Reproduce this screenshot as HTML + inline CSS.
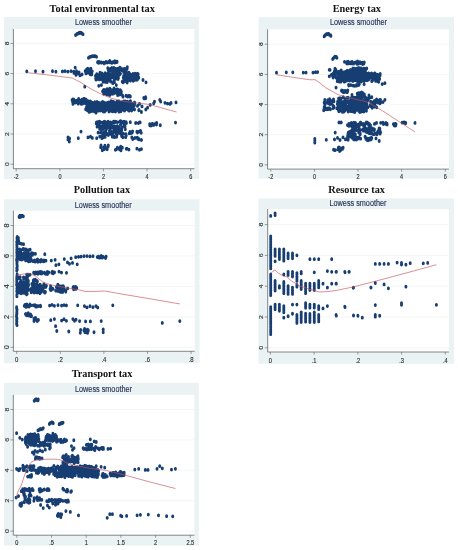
<!DOCTYPE html>
<html lang="en"><head><meta charset="utf-8"><title>Lowess smoother panels</title>
<style>html,body{margin:0;padding:0;background:#fff}body{width:458px;height:550px;overflow:hidden}svg{display:block;font-family:"Liberation Sans",sans-serif}</style></head>
<body>
<svg width="458" height="550" viewBox="0 0 458 550">
<rect width="458" height="550" fill="#fff"/>
<g>
<rect x="4.1" y="17.0" width="194.9" height="162.0" fill="#eaf2f3"/>
<rect x="13.8" y="29.0" width="180.6" height="139.7" fill="#fff"/>
<line x1="13.4" x2="194.4" y1="43.4" y2="43.4" stroke="#eef3f4" stroke-width="0.7"/>
<line x1="13.4" x2="194.4" y1="73.6" y2="73.6" stroke="#eef3f4" stroke-width="0.7"/>
<line x1="13.4" x2="194.4" y1="103.8" y2="103.8" stroke="#eef3f4" stroke-width="0.7"/>
<line x1="13.4" x2="194.4" y1="134.0" y2="134.0" stroke="#eef3f4" stroke-width="0.7"/>
<line x1="13.4" x2="194.4" y1="164.2" y2="164.2" stroke="#eef3f4" stroke-width="0.7"/>
<path d="M13.4 29.0V168.7H194.4" fill="none" stroke="#5c6164" stroke-width="0.75"/>
<line x1="10.5" x2="13.4" y1="43.4" y2="43.4" stroke="#5c6164" stroke-width="0.6"/>
<text transform="translate(8.8 43.4) scale(1 1.17) rotate(-90)" text-anchor="middle" font-size="5.8" fill="#2b2f32" stroke="#2b2f32" stroke-width="0.12">8</text>
<line x1="10.5" x2="13.4" y1="73.6" y2="73.6" stroke="#5c6164" stroke-width="0.6"/>
<text transform="translate(8.8 73.6) scale(1 1.17) rotate(-90)" text-anchor="middle" font-size="5.8" fill="#2b2f32" stroke="#2b2f32" stroke-width="0.12">6</text>
<line x1="10.5" x2="13.4" y1="103.8" y2="103.8" stroke="#5c6164" stroke-width="0.6"/>
<text transform="translate(8.8 103.8) scale(1 1.17) rotate(-90)" text-anchor="middle" font-size="5.8" fill="#2b2f32" stroke="#2b2f32" stroke-width="0.12">4</text>
<line x1="10.5" x2="13.4" y1="134.0" y2="134.0" stroke="#5c6164" stroke-width="0.6"/>
<text transform="translate(8.8 134.0) scale(1 1.17) rotate(-90)" text-anchor="middle" font-size="5.8" fill="#2b2f32" stroke="#2b2f32" stroke-width="0.12">2</text>
<line x1="10.5" x2="13.4" y1="164.2" y2="164.2" stroke="#5c6164" stroke-width="0.6"/>
<text transform="translate(8.8 164.2) scale(1 1.17) rotate(-90)" text-anchor="middle" font-size="5.8" fill="#2b2f32" stroke="#2b2f32" stroke-width="0.12">0</text>
<line x1="16.2" x2="16.2" y1="168.7" y2="171.3" stroke="#5c6164" stroke-width="0.6"/>
<text transform="translate(16.2 178.7) scale(1 1.17)" text-anchor="middle" font-size="5.5" fill="#2b2f32" stroke="#2b2f32" stroke-width="0.12">-2</text>
<line x1="59.9" x2="59.9" y1="168.7" y2="171.3" stroke="#5c6164" stroke-width="0.6"/>
<text transform="translate(59.9 178.7) scale(1 1.17)" text-anchor="middle" font-size="5.5" fill="#2b2f32" stroke="#2b2f32" stroke-width="0.12">0</text>
<line x1="103.4" x2="103.4" y1="168.7" y2="171.3" stroke="#5c6164" stroke-width="0.6"/>
<text transform="translate(103.4 178.7) scale(1 1.17)" text-anchor="middle" font-size="5.5" fill="#2b2f32" stroke="#2b2f32" stroke-width="0.12">2</text>
<line x1="147.0" x2="147.0" y1="168.7" y2="171.3" stroke="#5c6164" stroke-width="0.6"/>
<text transform="translate(147.0 178.7) scale(1 1.17)" text-anchor="middle" font-size="5.5" fill="#2b2f32" stroke="#2b2f32" stroke-width="0.12">4</text>
<line x1="190.7" x2="190.7" y1="168.7" y2="171.3" stroke="#5c6164" stroke-width="0.6"/>
<text transform="translate(190.7 178.7) scale(1 1.17)" text-anchor="middle" font-size="5.5" fill="#2b2f32" stroke="#2b2f32" stroke-width="0.12">6</text>
<text x="102.2" y="12.1" text-anchor="middle" font-family="'Liberation Serif',serif" font-weight="bold" font-size="10.3" fill="#111">Total environmental tax</text>
<text transform="translate(103.5 25.4) scale(1 1.17)" text-anchor="middle" font-size="7.27" fill="#1e2d53" stroke="#1e2d53" stroke-width="0.12">Lowess smoother</text>
<path transform="scale(1 1.26)" d="M26.8 56.7h0M35.5 56.5h0M43.0 56.9h0M52.5 56.5h0M55.9 56.9h0M62.4 56.7h0M65.0 56.5h0M67.9 56.8h0M71.0 56.5h0M73.8 56.8h0M76.5 56.5h0M75.2 53.6h0M74.0 57.9h0M76.0 59.5h0M78.0 58.3h0M80.0 59.9h0M82.0 59.1h0M79.0 57.5h0M75.6 27.8h0M76.6 27.2h0M77.0 26.9h0M78.0 26.6h0M78.4 26.5h0M78.9 26.2h0M79.7 25.9h0M80.3 26.0h0M81.3 26.1h0M81.9 26.5h0M82.5 26.8h0M83.0 27.1h0M88.5 45.9h0M89.4 45.4h0M90.4 45.1h0M91.1 44.9h0M92.2 44.5h0M93.0 44.5h0M94.0 44.5h0M94.6 44.6h0M95.3 44.6h0M96.5 45.1h0M107.2 49.7h0M108.5 49.2h0M108.0 49.3h0M114.8 49.4h0M109.7 48.4h0M101.7 49.7h0M106.0 49.5h0M112.3 49.6h0M114.6 49.7h0M114.8 48.6h0M104.2 50.3h0M99.8 49.6h0M106.0 49.1h0M104.5 50.0h0M109.7 49.4h0M98.5 49.1h0M112.2 49.6h0M109.5 49.4h0M99.8 49.4h0M100.1 49.5h0M113.9 49.2h0M103.4 49.7h0M115.9 49.4h0M98.4 49.8h0M101.2 49.6h0M99.4 49.4h0M116.8 48.9h0M104.4 50.1h0M112.1 49.8h0M117.0 48.9h0M111.6 49.9h0M97.6 49.4h0M111.1 49.5h0M117.0 49.2h0M86.3 57.2h0M92.2 56.6h0M91.7 58.5h0M90.9 54.5h0M90.4 59.1h0M86.5 58.0h0M85.9 58.3h0M91.7 59.1h0M89.4 55.2h0M85.2 56.4h0M91.1 58.2h0M86.1 55.6h0M89.2 55.2h0M91.6 57.1h0M90.8 56.9h0M88.7 56.1h0M86.8 55.0h0M88.2 55.1h0M87.7 54.4h0M89.0 57.9h0M116.9 55.4h0M116.0 54.7h0M120.7 55.1h0M125.7 54.9h0M111.8 55.2h0M111.1 54.6h0M113.4 55.7h0M125.7 55.8h0M111.8 53.8h0M125.8 56.1h0M124.3 55.4h0M114.7 55.7h0M107.8 54.1h0M113.9 53.9h0M127.3 53.2h0M114.0 54.8h0M109.4 56.0h0M113.7 55.9h0M121.6 55.4h0M117.3 55.7h0M124.3 54.7h0M124.1 55.2h0M125.8 55.3h0M112.8 54.5h0M111.7 55.8h0M113.2 54.8h0M108.3 55.4h0M118.8 56.1h0M110.3 54.6h0M123.5 55.6h0M126.3 56.0h0M119.8 54.5h0M111.3 54.9h0M112.0 56.0h0M120.8 55.0h0M117.1 55.0h0M127.1 54.5h0M126.4 54.6h0M114.7 54.6h0M118.1 54.4h0M115.8 54.7h0M111.9 55.1h0M120.4 53.9h0M114.6 55.3h0M121.4 55.8h0M119.9 53.6h0M117.0 55.5h0M122.9 54.8h0M112.4 59.0h0M105.2 61.3h0M110.2 60.0h0M96.1 59.9h0M108.5 61.5h0M102.2 61.7h0M100.6 59.3h0M104.1 61.8h0M110.4 58.9h0M101.8 60.5h0M96.5 61.4h0M112.1 60.3h0M106.6 62.4h0M101.8 58.3h0M107.4 59.3h0M102.6 60.3h0M110.1 63.0h0M99.2 61.8h0M112.7 61.4h0M97.0 60.3h0M103.3 60.0h0M116.8 62.1h0M99.4 62.0h0M102.3 63.1h0M109.5 59.9h0M97.8 60.1h0M118.2 60.9h0M99.4 63.0h0M114.4 61.8h0M108.9 61.5h0M106.6 59.0h0M97.2 60.3h0M103.7 63.4h0M101.8 60.5h0M105.4 59.5h0M117.1 62.4h0M119.3 59.3h0M97.8 59.6h0M100.9 61.3h0M105.1 60.3h0M104.3 62.8h0M98.0 62.2h0M100.9 60.4h0M107.5 62.0h0M97.2 62.5h0M107.1 60.1h0M118.4 61.9h0M102.0 60.8h0M112.9 61.0h0M113.4 58.7h0M114.6 62.2h0M103.4 61.4h0M112.7 60.8h0M109.4 61.2h0M95.9 63.1h0M111.7 59.0h0M102.5 59.5h0M95.5 60.2h0M101.3 58.5h0M96.3 61.8h0M100.8 59.9h0M101.2 61.9h0M101.5 60.4h0M118.2 59.3h0M105.1 58.1h0M105.5 60.1h0M97.6 62.5h0M116.7 61.0h0M104.2 62.6h0M96.3 59.6h0M103.7 59.6h0M104.5 62.6h0M100.1 62.6h0M106.7 60.1h0M118.0 62.7h0M95.7 62.2h0M97.0 62.5h0M101.9 58.9h0M103.0 59.3h0M112.7 58.7h0M114.5 62.2h0M96.4 63.1h0M118.3 60.5h0M107.9 61.8h0M113.9 60.4h0M103.4 62.2h0M98.0 60.1h0M98.0 59.9h0M120.4 58.6h0M98.3 61.8h0M106.5 61.5h0M111.9 60.4h0M98.9 60.5h0M104.7 59.1h0M102.3 61.6h0M102.2 61.4h0M101.6 62.1h0M97.2 62.2h0M118.1 59.0h0M101.0 62.4h0M105.1 59.1h0M114.6 60.9h0M110.7 59.4h0M100.7 61.8h0M101.2 61.4h0M100.1 62.1h0M109.1 60.2h0M108.8 58.9h0M112.0 59.9h0M118.3 60.4h0M107.0 58.8h0M100.5 58.1h0M116.4 60.5h0M116.6 58.5h0M108.2 58.0h0M110.2 59.4h0M101.3 58.7h0M108.0 58.1h0M100.2 60.1h0M97.6 62.2h0M110.8 61.6h0M100.2 62.5h0M100.3 61.1h0M105.3 61.8h0M117.9 61.8h0M96.9 60.8h0M108.6 59.9h0M109.0 60.6h0M107.0 60.6h0M101.5 59.6h0M99.8 58.9h0M106.6 60.9h0M96.6 61.5h0M114.2 60.6h0M105.1 62.1h0M119.5 58.4h0M117.9 62.5h0M100.0 57.6h0M104.2 62.1h0M102.5 60.3h0M117.9 60.9h0M103.8 59.1h0M117.7 58.2h0M115.1 61.5h0M104.9 60.5h0M118.3 62.0h0M105.4 62.4h0M109.0 60.9h0M100.0 61.8h0M100.8 60.0h0M111.6 58.5h0M98.9 60.3h0M117.5 61.5h0M96.8 58.8h0M104.5 61.5h0M100.2 58.6h0M118.2 59.0h0M111.7 59.6h0M102.9 60.9h0M103.8 62.1h0M113.3 59.5h0M108.2 58.8h0M115.1 62.6h0M99.4 61.2h0M111.3 59.5h0M104.1 62.1h0M114.0 61.7h0M106.9 58.9h0M98.3 59.9h0M113.4 60.7h0M101.6 61.7h0M108.2 63.2h0M101.1 59.4h0M101.4 60.6h0M104.0 59.1h0M116.9 60.8h0M118.2 61.6h0M115.5 61.1h0M103.3 59.3h0M117.6 58.9h0M117.8 58.7h0M96.5 60.9h0M114.1 60.2h0M115.8 57.8h0M117.7 58.3h0M100.8 62.2h0M114.5 60.5h0M102.9 61.8h0M100.5 58.8h0M101.8 60.6h0M125.4 64.0h0M127.9 60.7h0M128.2 62.0h0M124.0 63.7h0M123.9 63.3h0M131.1 61.1h0M129.2 60.3h0M129.1 60.3h0M123.7 57.3h0M128.4 63.1h0M128.5 60.0h0M125.6 64.3h0M122.3 64.8h0M125.5 59.5h0M125.1 63.1h0M127.3 58.5h0M128.9 57.7h0M125.9 57.4h0M126.3 58.3h0M124.3 57.4h0M123.4 61.7h0M123.2 65.4h0M129.5 58.4h0M126.3 63.0h0M126.0 58.4h0M123.7 60.3h0M128.7 61.7h0M126.5 60.8h0M128.9 61.5h0M128.2 63.1h0M129.8 63.4h0M127.5 59.2h0M127.9 63.7h0M127.9 60.2h0M125.6 62.3h0M130.4 64.0h0M123.9 57.3h0M127.2 65.5h0M127.1 61.8h0M127.5 63.8h0M125.4 59.2h0M127.2 58.4h0M130.4 59.3h0M126.0 60.5h0M127.8 59.1h0M137.4 59.8h0M136.9 59.6h0M137.3 61.1h0M135.7 62.0h0M136.5 61.0h0M133.2 64.1h0M134.2 60.8h0M132.9 58.6h0M136.6 60.9h0M134.1 63.3h0M135.0 58.5h0M138.2 59.0h0M137.4 58.5h0M138.1 58.9h0M132.5 61.6h0M133.2 59.2h0M137.1 62.6h0M138.2 59.0h0M135.5 61.3h0M137.4 60.0h0M132.1 61.7h0M131.7 62.2h0M138.7 61.7h0M134.9 60.3h0M134.6 62.8h0M136.7 63.3h0M137.4 63.1h0M135.0 63.3h0M135.3 61.7h0M133.9 59.8h0M107.1 65.2h0M105.2 64.5h0M103.1 64.9h0M114.4 65.2h0M110.0 64.2h0M113.8 64.4h0M105.5 65.0h0M110.6 64.4h0M110.6 64.5h0M110.7 64.7h0M143.0 63.5h0M146.0 65.3h0M98.8 68.1h0M101.4 67.5h0M112.8 66.0h0M116.3 67.5h0M84.8 68.8h0M111.1 71.4h0M103.6 72.7h0M109.9 72.5h0M107.3 72.6h0M109.8 70.3h0M113.4 74.3h0M113.8 70.7h0M108.7 74.4h0M111.2 73.7h0M106.7 71.0h0M116.3 72.0h0M118.8 74.0h0M107.1 70.8h0M116.7 73.1h0M103.7 72.3h0M119.8 75.0h0M103.7 74.4h0M103.8 72.2h0M118.3 72.4h0M112.5 71.7h0M116.9 74.0h0M109.7 75.4h0M116.7 71.0h0M120.3 71.5h0M114.9 73.3h0M107.3 72.9h0M114.4 73.7h0M108.3 72.7h0M114.0 70.2h0M118.4 72.5h0M108.3 73.1h0M119.4 73.4h0M117.7 75.5h0M106.4 72.4h0M106.5 74.9h0M112.0 74.5h0M106.0 74.1h0M111.6 71.8h0M106.6 73.0h0M112.5 71.8h0M104.1 71.3h0M114.4 73.1h0M108.9 71.0h0M121.3 72.9h0M107.6 74.4h0M117.4 70.9h0M103.5 71.5h0M102.6 72.5h0M120.3 73.3h0M111.0 72.7h0M112.2 72.8h0M109.6 75.0h0M121.0 72.1h0M110.2 73.9h0M103.8 72.9h0M121.1 74.1h0M119.8 73.0h0M117.0 72.2h0M104.7 71.9h0M105.3 73.8h0M110.8 72.7h0M118.7 71.6h0M113.4 74.3h0M114.0 73.8h0M112.5 72.3h0M107.8 71.7h0M117.2 72.8h0M110.7 72.0h0M112.4 73.1h0M119.6 73.7h0M109.3 72.6h0M108.5 75.1h0M118.2 74.0h0M107.9 73.6h0M107.7 71.9h0M107.7 71.9h0M112.6 73.0h0M109.3 74.1h0M109.7 73.3h0M112.9 73.5h0M115.6 71.9h0M108.0 73.0h0M108.1 73.4h0M117.1 73.9h0M113.0 72.1h0M129.8 76.2h0M128.4 76.1h0M127.6 76.6h0M130.0 76.7h0M130.3 76.5h0M126.1 76.0h0M122.6 75.9h0M123.0 76.7h0M72.8 78.9h0M75.5 81.4h0M73.6 78.8h0M72.4 80.2h0M72.8 81.4h0M78.2 82.3h0M73.9 79.6h0M75.4 80.1h0M78.4 79.6h0M73.0 82.5h0M78.6 78.5h0M76.9 79.8h0M74.6 80.8h0M72.1 79.4h0M81.7 82.3h0M86.3 81.4h0M79.4 81.0h0M80.9 80.7h0M81.3 82.5h0M82.0 79.1h0M86.1 79.1h0M83.8 78.5h0M80.5 79.8h0M82.4 82.3h0M84.9 78.6h0M86.0 81.0h0M84.0 79.3h0M84.1 78.4h0M83.2 80.4h0M84.1 80.6h0M87.4 82.3h0M84.4 80.2h0M87.3 82.8h0M87.3 80.0h0M85.5 81.3h0M84.6 80.9h0M84.4 81.7h0M80.7 81.6h0M84.0 80.7h0M83.9 80.0h0M82.7 81.6h0M81.8 80.2h0M82.9 79.5h0M84.1 79.0h0M113.9 87.6h0M102.4 87.3h0M94.9 81.1h0M87.8 87.5h0M121.8 84.2h0M111.0 82.9h0M114.2 86.7h0M112.1 83.9h0M112.4 87.7h0M109.0 88.5h0M101.8 81.7h0M102.6 84.4h0M92.1 86.5h0M134.7 81.5h0M99.5 82.0h0M94.5 82.9h0M134.3 83.7h0M124.1 81.2h0M101.3 85.3h0M95.0 82.6h0M115.7 84.7h0M106.3 86.6h0M91.6 84.8h0M125.3 80.5h0M86.8 85.7h0M103.5 81.6h0M129.6 83.9h0M105.9 85.4h0M132.0 82.7h0M89.2 82.6h0M130.0 84.9h0M131.4 82.5h0M105.0 82.7h0M127.7 82.5h0M94.3 88.3h0M100.0 84.6h0M104.7 81.6h0M126.0 82.3h0M99.9 85.8h0M103.2 81.8h0M99.4 83.8h0M126.9 83.1h0M120.2 82.9h0M131.9 84.1h0M92.3 87.2h0M114.4 85.5h0M96.6 84.4h0M112.3 84.3h0M117.6 83.4h0M90.8 83.8h0M118.9 83.7h0M110.4 83.1h0M97.7 83.2h0M106.5 87.0h0M128.3 81.0h0M118.9 83.4h0M118.0 86.8h0M103.0 81.3h0M130.4 80.2h0M88.2 83.2h0M105.1 85.6h0M95.2 85.6h0M97.7 83.5h0M86.6 82.1h0M88.6 80.5h0M98.7 82.7h0M130.5 85.8h0M105.2 81.9h0M91.0 87.6h0M119.6 84.6h0M108.9 84.1h0M111.2 86.4h0M87.9 81.8h0M113.4 84.7h0M98.7 83.9h0M95.8 86.3h0M118.7 84.9h0M108.2 82.7h0M129.5 83.6h0M124.8 81.7h0M118.0 86.2h0M126.8 83.6h0M96.5 82.2h0M119.9 83.1h0M108.7 81.3h0M87.5 81.2h0M121.7 81.3h0M109.5 84.9h0M87.2 85.1h0M131.3 82.2h0M93.8 87.2h0M100.8 87.7h0M131.6 87.7h0M122.0 87.2h0M101.2 83.8h0M126.5 85.1h0M117.0 87.0h0M131.4 81.8h0M100.5 85.8h0M92.7 81.7h0M87.7 86.3h0M86.8 86.0h0M106.6 85.2h0M106.3 86.1h0M126.5 82.7h0M107.2 81.9h0M90.0 88.5h0M131.3 87.2h0M116.3 85.7h0M115.5 88.5h0M109.2 82.9h0M129.5 85.9h0M108.5 83.8h0M113.7 85.2h0M105.6 87.7h0M113.6 83.1h0M90.3 84.3h0M113.1 82.0h0M110.8 83.6h0M88.7 85.2h0M120.8 88.0h0M122.0 84.1h0M95.1 86.4h0M92.8 82.2h0M104.9 82.3h0M100.5 87.0h0M116.8 87.3h0M128.9 83.8h0M122.8 80.8h0M104.1 85.1h0M88.0 84.7h0M126.1 86.5h0M98.7 87.5h0M114.4 81.5h0M125.3 83.3h0M119.3 87.5h0M111.9 87.2h0M86.6 84.7h0M128.6 81.9h0M125.6 83.9h0M94.1 87.0h0M116.2 82.4h0M129.4 81.8h0M102.9 83.7h0M104.0 83.2h0M85.5 81.2h0M93.0 82.4h0M110.3 85.2h0M132.8 84.9h0M124.2 84.9h0M116.7 87.0h0M129.3 82.7h0M123.2 85.0h0M102.6 80.9h0M101.8 85.5h0M104.0 83.6h0M93.8 84.1h0M107.3 81.7h0M89.2 86.6h0M113.4 87.6h0M114.8 85.2h0M133.5 84.5h0M128.9 87.8h0M99.5 81.9h0M99.0 83.4h0M95.0 85.1h0M95.5 84.1h0M90.4 82.4h0M93.0 87.9h0M117.5 83.0h0M122.2 85.5h0M103.0 81.1h0M116.2 85.6h0M98.5 87.8h0M113.7 85.3h0M121.2 81.9h0M93.1 86.7h0M106.0 84.7h0M117.7 86.1h0M98.4 85.9h0M101.3 82.9h0M98.3 81.4h0M85.7 86.7h0M104.1 86.4h0M90.8 81.1h0M110.2 87.8h0M104.1 86.5h0M131.0 86.7h0M98.5 85.4h0M103.0 82.6h0M130.7 81.5h0M116.6 81.5h0M112.5 88.4h0M116.6 82.9h0M107.2 86.8h0M116.8 83.6h0M114.4 88.0h0M99.1 81.9h0M101.1 81.9h0M118.8 84.8h0M129.3 84.2h0M124.2 87.1h0M134.4 81.5h0M134.7 81.8h0M122.1 86.0h0M89.8 87.0h0M129.1 82.4h0M124.5 84.4h0M97.1 80.8h0M133.8 82.3h0M110.2 82.3h0M119.9 85.0h0M91.2 88.1h0M103.4 88.5h0M121.6 82.9h0M90.1 83.9h0M113.1 86.0h0M117.2 85.8h0M134.5 83.2h0M100.3 84.1h0M104.6 88.5h0M85.4 81.9h0M115.5 82.3h0M92.3 87.0h0M88.3 85.2h0M112.2 81.6h0M122.8 84.7h0M134.5 86.9h0M104.4 84.2h0M115.7 85.1h0M112.6 83.2h0M129.4 84.7h0M109.3 88.0h0M111.1 86.8h0M98.2 84.9h0M117.8 86.5h0M87.4 87.5h0M92.3 81.6h0M103.7 83.6h0M88.9 86.9h0M107.0 86.6h0M93.2 84.2h0M97.3 83.8h0M87.2 81.5h0M94.7 82.7h0M98.0 85.3h0M128.0 87.2h0M116.0 84.1h0M103.8 83.4h0M117.8 83.2h0M114.5 88.0h0M120.1 83.6h0M89.6 84.2h0M111.0 80.3h0M114.3 87.2h0M105.1 84.1h0M109.0 85.7h0M122.0 85.9h0M113.1 80.7h0M97.7 81.7h0M90.4 80.4h0M119.0 80.5h0M119.0 88.6h0M126.0 83.0h0M112.9 82.7h0M98.7 87.5h0M112.5 80.9h0M101.6 86.6h0M98.6 84.9h0M103.6 85.2h0M104.0 87.4h0M113.6 84.8h0M105.5 82.5h0M124.6 87.5h0M113.6 84.3h0M129.3 85.7h0M88.6 85.1h0M95.5 86.5h0M109.9 82.3h0M96.5 87.5h0M96.4 86.8h0M131.6 82.9h0M130.0 80.8h0M120.9 83.1h0M97.0 84.7h0M94.0 86.9h0M94.0 82.4h0M87.1 82.7h0M113.1 86.5h0M106.9 86.8h0M93.7 87.2h0M111.6 86.8h0M110.5 84.2h0M127.5 80.9h0M92.7 88.0h0M97.3 85.2h0M132.4 86.5h0M88.2 82.9h0M122.6 83.6h0M89.2 84.8h0M123.9 80.5h0M111.7 81.9h0M113.9 86.1h0M94.7 84.0h0M127.5 81.4h0M90.9 84.3h0M112.6 82.2h0M111.6 82.1h0M105.8 82.6h0M127.3 80.7h0M131.0 85.0h0M119.7 82.5h0M99.5 84.7h0M100.5 84.9h0M96.7 85.7h0M89.1 88.8h0M87.5 86.4h0M103.0 87.3h0M87.2 83.6h0M90.4 86.5h0M93.3 82.3h0M96.0 89.4h0M123.9 86.7h0M130.2 81.5h0M117.0 80.6h0M120.8 88.3h0M118.8 86.8h0M132.4 86.6h0M124.6 86.7h0M124.5 87.8h0M112.4 86.5h0M121.2 84.2h0M99.9 84.6h0M125.1 83.4h0M121.3 85.9h0M122.3 85.3h0M122.5 86.5h0M122.0 82.4h0M97.4 84.6h0M109.3 84.1h0M122.9 82.4h0M102.7 84.8h0M122.5 82.9h0M122.6 86.9h0M106.3 85.9h0M124.4 86.9h0M111.6 86.0h0M99.0 83.1h0M125.8 83.6h0M106.3 86.5h0M110.6 87.0h0M117.6 84.6h0M126.7 85.6h0M105.8 86.2h0M109.9 83.5h0M122.6 83.8h0M120.6 85.2h0M94.4 86.7h0M125.3 85.3h0M94.2 85.6h0M103.3 84.4h0M109.0 85.8h0M116.2 86.2h0M117.7 85.1h0M122.7 82.5h0M111.8 85.4h0M99.3 83.8h0M108.2 82.9h0M104.6 83.6h0M109.1 84.3h0M107.4 83.1h0M124.5 85.4h0M120.7 85.9h0M109.2 85.4h0M102.2 85.4h0M103.2 85.5h0M95.1 83.4h0M126.5 82.9h0M112.7 83.5h0M122.3 85.4h0M127.0 85.2h0M108.1 83.6h0M107.4 82.7h0M123.5 85.2h0M125.5 82.9h0M106.9 85.3h0M113.2 83.8h0M123.5 82.2h0M117.1 85.8h0M125.1 84.4h0M125.0 85.9h0M114.9 85.1h0M122.4 83.6h0M96.0 84.8h0M106.0 85.9h0M105.6 82.9h0M103.6 84.9h0M122.9 83.0h0M100.9 83.5h0M113.6 84.0h0M123.3 81.9h0M121.5 84.3h0M94.9 84.4h0M106.7 83.3h0M125.0 86.6h0M105.2 84.4h0M97.2 85.6h0M109.2 84.3h0M103.6 85.3h0M109.1 83.8h0M101.9 86.4h0M120.9 85.2h0M119.1 82.5h0M123.7 82.9h0M106.3 87.2h0M104.5 84.0h0M125.3 82.3h0M97.6 85.0h0M129.2 84.0h0M122.6 85.0h0M138.8 87.5h0M141.4 88.9h0M145.8 86.9h0M147.6 85.5h0M150.2 83.3h0M153.7 82.0h0M154.5 80.6h0M159.8 79.2h0M160.7 80.6h0M165.0 81.6h0M167.5 82.2h0M170.0 82.5h0M171.0 81.7h0M176.0 81.3h0M139.0 87.3h0M137.5 84.1h0M139.5 82.5h0M142.0 84.5h0M144.2 78.1h0M145.6 77.1h0M143.8 77.6h0M145.7 77.9h0M144.4 78.1h0M145.2 78.1h0M113.0 97.4h0M122.4 97.1h0M104.1 96.8h0M114.5 97.4h0M113.5 96.6h0M98.3 97.0h0M108.1 96.5h0M115.8 96.6h0M123.8 97.0h0M126.4 97.7h0M120.7 96.5h0M100.1 96.9h0M97.9 98.1h0M117.4 97.1h0M104.4 97.3h0M100.3 97.0h0M121.2 97.5h0M121.2 96.4h0M121.2 96.9h0M114.3 96.6h0M97.5 97.0h0M96.5 97.2h0M120.7 97.3h0M102.4 97.4h0M112.8 97.4h0M122.3 97.0h0M105.5 97.0h0M126.1 97.0h0M99.5 96.6h0M109.5 97.6h0M124.1 96.5h0M121.7 97.1h0M121.1 97.5h0M124.2 97.3h0M105.2 97.4h0M110.6 97.2h0M120.4 96.1h0M104.6 97.5h0M104.3 96.5h0M119.9 96.4h0M135.9 97.5h0M135.6 97.7h0M130.3 97.0h0M138.4 97.7h0M140.1 97.2h0M139.5 97.2h0M160.3 99.4h0M156.7 97.6h0M152.6 98.4h0M152.6 98.7h0M155.6 98.0h0M149.7 98.5h0M151.0 99.7h0M156.5 98.9h0M149.8 99.4h0M153.9 99.1h0M152.8 99.1h0M152.1 98.3h0M175.5 97.3h0M105.1 108.7h0M100.7 105.3h0M101.9 109.7h0M107.5 100.3h0M99.3 99.8h0M125.0 100.3h0M120.2 104.7h0M99.7 102.3h0M107.9 100.1h0M102.6 105.9h0M110.8 105.8h0M121.7 103.4h0M99.0 99.4h0M99.5 100.9h0M109.8 102.5h0M111.2 98.8h0M103.0 107.7h0M125.7 108.9h0M112.3 108.5h0M103.1 109.1h0M110.3 103.3h0M106.2 103.0h0M100.6 100.2h0M96.3 98.0h0M110.6 100.3h0M110.8 99.5h0M121.6 107.9h0M107.8 100.6h0M114.7 100.6h0M97.1 100.5h0M117.9 102.3h0M118.3 101.0h0M109.5 103.8h0M126.2 107.6h0M103.0 100.8h0M125.3 102.6h0M117.2 100.1h0M122.2 101.2h0M109.3 99.5h0M104.6 100.7h0M99.7 108.4h0M98.1 105.2h0M109.1 106.3h0M122.9 109.0h0M109.9 99.7h0M96.7 109.7h0M122.2 108.3h0M120.5 99.1h0M103.3 107.0h0M124.0 99.0h0M123.3 106.1h0M104.1 104.7h0M117.7 105.7h0M110.2 97.6h0M110.4 105.1h0M102.7 100.7h0M109.8 102.8h0M125.9 106.5h0M106.7 99.0h0M103.2 98.9h0M103.6 100.7h0M113.9 102.8h0M115.4 104.3h0M101.5 102.9h0M121.0 104.8h0M113.8 100.5h0M116.8 107.6h0M114.2 104.5h0M106.0 106.5h0M106.9 101.4h0M115.9 102.2h0M115.9 100.8h0M120.7 102.8h0M111.7 104.6h0M106.8 101.3h0M102.6 101.7h0M117.4 103.9h0M105.8 100.0h0M104.2 106.0h0M106.3 99.9h0M113.6 107.8h0M117.5 106.1h0M113.1 105.3h0M103.2 101.9h0M109.1 99.9h0M116.2 106.0h0M114.5 101.0h0M107.4 100.9h0M106.1 105.5h0M121.0 102.3h0M116.7 100.8h0M102.0 108.3h0M118.8 100.9h0M111.1 106.3h0M112.1 100.2h0M108.8 106.0h0M105.6 106.8h0M116.6 108.6h0M120.2 103.8h0M114.3 108.9h0M120.3 105.8h0M108.3 107.2h0M110.7 100.9h0M121.4 106.9h0M104.2 101.4h0M112.3 101.1h0M116.5 101.1h0M106.5 102.1h0M117.3 103.5h0M120.5 103.8h0M137.2 104.6h0M141.2 105.4h0M131.0 105.6h0M130.0 104.6h0M137.4 105.2h0M139.1 104.4h0M136.9 104.5h0M132.6 104.2h0M132.2 105.2h0M129.3 105.9h0M136.9 104.4h0M140.5 103.8h0M137.8 110.2h0M133.2 110.2h0M132.7 110.4h0M139.0 110.7h0M137.2 109.2h0M138.5 110.0h0M131.8 109.0h0M141.4 111.1h0M135.0 109.5h0M108.3 115.4h0M103.9 116.9h0M101.0 115.4h0M101.2 116.9h0M104.9 115.6h0M107.2 118.5h0M107.2 118.4h0M100.7 116.9h0M104.3 118.4h0M102.3 119.3h0M108.1 116.3h0M105.5 117.3h0M116.4 118.5h0M120.9 119.4h0M120.3 116.9h0M120.7 116.3h0M119.6 117.9h0M122.3 117.2h0M128.9 118.7h0M119.2 118.3h0M126.3 118.1h0M115.4 118.9h0M126.9 118.0h0M117.4 117.2h0M136.9 118.0h0M139.5 118.9h0M141.4 118.3h0M68.0 109.1h0M68.0 110.7h0M69.3 112.3h0M69.5 109.9h0M81.0 104.4h0M78.3 109.7h0M88.0 109.1h0M90.5 108.4h0M92.3 109.5h0" fill="none" stroke="#163e72" stroke-width="3.0" stroke-linecap="round"/>
<path d="M27.0 72.6L50.0 75.2L72.2 78.0L80.0 82.0L92.0 89.5L102.0 94.5L112.0 98.5L125.0 101.5L140.0 103.3L150.0 104.6L162.0 108.0L176.5 112.0" fill="none" stroke="#c2545f" stroke-width="0.65" stroke-linejoin="round"/>
</g>
<g>
<rect x="258.6" y="17.2" width="195.4" height="161.4" fill="#eaf2f3"/>
<rect x="268.0" y="29.3" width="180.9" height="139.8" fill="#fff"/>
<line x1="267.6" x2="448.9" y1="44.2" y2="44.2" stroke="#eef3f4" stroke-width="0.7"/>
<line x1="267.6" x2="448.9" y1="74.4" y2="74.4" stroke="#eef3f4" stroke-width="0.7"/>
<line x1="267.6" x2="448.9" y1="104.6" y2="104.6" stroke="#eef3f4" stroke-width="0.7"/>
<line x1="267.6" x2="448.9" y1="134.7" y2="134.7" stroke="#eef3f4" stroke-width="0.7"/>
<line x1="267.6" x2="448.9" y1="164.9" y2="164.9" stroke="#eef3f4" stroke-width="0.7"/>
<path d="M267.6 29.3V169.1H448.9" fill="none" stroke="#5c6164" stroke-width="0.75"/>
<line x1="264.7" x2="267.6" y1="44.2" y2="44.2" stroke="#5c6164" stroke-width="0.6"/>
<text transform="translate(263.0 44.2) scale(1 1.17) rotate(-90)" text-anchor="middle" font-size="5.8" fill="#2b2f32" stroke="#2b2f32" stroke-width="0.12">8</text>
<line x1="264.7" x2="267.6" y1="74.4" y2="74.4" stroke="#5c6164" stroke-width="0.6"/>
<text transform="translate(263.0 74.4) scale(1 1.17) rotate(-90)" text-anchor="middle" font-size="5.8" fill="#2b2f32" stroke="#2b2f32" stroke-width="0.12">6</text>
<line x1="264.7" x2="267.6" y1="104.6" y2="104.6" stroke="#5c6164" stroke-width="0.6"/>
<text transform="translate(263.0 104.6) scale(1 1.17) rotate(-90)" text-anchor="middle" font-size="5.8" fill="#2b2f32" stroke="#2b2f32" stroke-width="0.12">4</text>
<line x1="264.7" x2="267.6" y1="134.7" y2="134.7" stroke="#5c6164" stroke-width="0.6"/>
<text transform="translate(263.0 134.7) scale(1 1.17) rotate(-90)" text-anchor="middle" font-size="5.8" fill="#2b2f32" stroke="#2b2f32" stroke-width="0.12">2</text>
<line x1="264.7" x2="267.6" y1="164.9" y2="164.9" stroke="#5c6164" stroke-width="0.6"/>
<text transform="translate(263.0 164.9) scale(1 1.17) rotate(-90)" text-anchor="middle" font-size="5.8" fill="#2b2f32" stroke="#2b2f32" stroke-width="0.12">0</text>
<line x1="270.8" x2="270.8" y1="169.1" y2="171.7" stroke="#5c6164" stroke-width="0.6"/>
<text transform="translate(270.8 178.9) scale(1 1.17)" text-anchor="middle" font-size="5.5" fill="#2b2f32" stroke="#2b2f32" stroke-width="0.12">-2</text>
<line x1="314.5" x2="314.5" y1="169.1" y2="171.7" stroke="#5c6164" stroke-width="0.6"/>
<text transform="translate(314.5 178.9) scale(1 1.17)" text-anchor="middle" font-size="5.5" fill="#2b2f32" stroke="#2b2f32" stroke-width="0.12">0</text>
<line x1="358.0" x2="358.0" y1="169.1" y2="171.7" stroke="#5c6164" stroke-width="0.6"/>
<text transform="translate(358.0 178.9) scale(1 1.17)" text-anchor="middle" font-size="5.5" fill="#2b2f32" stroke="#2b2f32" stroke-width="0.12">2</text>
<line x1="401.6" x2="401.6" y1="169.1" y2="171.7" stroke="#5c6164" stroke-width="0.6"/>
<text transform="translate(401.6 178.9) scale(1 1.17)" text-anchor="middle" font-size="5.5" fill="#2b2f32" stroke="#2b2f32" stroke-width="0.12">4</text>
<line x1="445.3" x2="445.3" y1="169.1" y2="171.7" stroke="#5c6164" stroke-width="0.6"/>
<text transform="translate(445.3 178.9) scale(1 1.17)" text-anchor="middle" font-size="5.5" fill="#2b2f32" stroke="#2b2f32" stroke-width="0.12">6</text>
<text x="356.8" y="12.1" text-anchor="middle" font-family="'Liberation Serif',serif" font-weight="bold" font-size="10.3" fill="#111">Energy tax</text>
<text transform="translate(358.5 25.4) scale(1 1.17)" text-anchor="middle" font-size="7.27" fill="#1e2d53" stroke="#1e2d53" stroke-width="0.12">Lowess smoother</text>
<path transform="scale(1 1.26)" d="M276.5 57.7h0M286.3 57.4h0M292.8 57.4h0M303.3 57.6h0M306.0 57.6h0M313.0 57.6h0M315.5 57.3h0M317.6 57.2h0M324.2 28.9h0M325.0 28.1h0M325.4 27.7h0M326.0 27.3h0M327.0 26.9h0M327.4 27.0h0M328.1 27.0h0M328.7 26.9h0M329.4 27.4h0M329.6 27.7h0M330.5 27.8h0M330.9 28.5h0M332.7 46.9h0M333.2 46.4h0M334.1 45.7h0M334.6 45.3h0M335.0 45.0h0M335.7 45.1h0M336.3 45.2h0M336.9 45.9h0M347.9 50.2h0M352.6 50.3h0M362.9 49.9h0M347.3 50.1h0M363.3 50.1h0M351.2 49.3h0M361.6 49.9h0M358.5 50.5h0M352.0 50.0h0M357.5 48.7h0M352.2 49.2h0M357.2 50.7h0M352.5 50.2h0M360.9 49.9h0M353.5 50.5h0M355.7 49.6h0M350.4 50.3h0M349.2 50.1h0M362.2 49.7h0M361.3 50.3h0M349.1 50.0h0M349.3 50.0h0M359.9 49.3h0M363.9 50.4h0M348.2 48.9h0M346.8 49.3h0M364.1 49.8h0M344.5 49.1h0M347.9 50.4h0M362.8 50.8h0M352.1 50.3h0M364.2 49.5h0M346.8 50.3h0M354.9 49.7h0M334.2 60.2h0M333.0 61.2h0M335.9 55.5h0M329.3 55.4h0M335.0 54.4h0M334.1 58.8h0M333.1 61.5h0M335.5 57.0h0M331.4 59.4h0M335.8 56.9h0M334.4 56.5h0M334.8 60.7h0M330.0 55.5h0M333.4 58.2h0M332.1 59.7h0M329.3 60.6h0M331.9 59.2h0M361.4 55.5h0M354.2 54.4h0M366.7 54.3h0M360.1 54.2h0M363.0 55.5h0M353.1 54.9h0M352.8 55.2h0M352.9 54.2h0M364.0 54.4h0M364.0 54.8h0M358.1 54.0h0M365.2 55.6h0M353.3 55.2h0M354.3 55.1h0M355.3 55.3h0M361.3 55.0h0M359.6 54.0h0M365.1 54.6h0M353.7 55.8h0M365.4 55.6h0M357.4 55.1h0M358.5 55.4h0M362.3 55.3h0M358.2 54.1h0M360.4 54.9h0M356.3 54.4h0M355.0 55.2h0M360.6 55.9h0M359.9 54.2h0M359.8 55.7h0M365.8 55.0h0M354.1 55.4h0M360.7 54.7h0M361.3 54.3h0M358.1 54.9h0M350.4 55.5h0M363.9 54.5h0M364.6 55.2h0M363.8 55.5h0M357.2 55.2h0M366.2 58.9h0M339.5 64.8h0M366.7 61.7h0M340.3 58.6h0M363.0 57.7h0M339.2 57.1h0M350.3 59.4h0M352.3 59.7h0M342.8 62.8h0M343.4 59.7h0M345.8 61.5h0M360.4 64.2h0M354.1 57.0h0M346.3 60.1h0M343.7 58.1h0M340.1 64.3h0M356.8 56.6h0M339.7 56.9h0M355.2 59.2h0M338.6 59.8h0M340.4 61.4h0M338.3 58.0h0M347.8 62.2h0M365.7 62.2h0M341.6 60.2h0M340.9 64.8h0M364.2 60.6h0M341.1 62.6h0M345.4 59.8h0M339.5 62.0h0M355.5 55.9h0M357.5 58.7h0M336.4 58.7h0M356.2 59.0h0M365.4 56.9h0M358.2 57.0h0M362.1 59.2h0M356.2 59.1h0M362.7 63.9h0M360.0 64.0h0M355.9 57.6h0M350.9 59.4h0M350.8 58.3h0M350.3 61.8h0M340.7 62.6h0M357.2 57.7h0M363.3 58.6h0M347.5 59.5h0M358.0 59.6h0M344.3 63.0h0M341.9 62.5h0M355.6 57.9h0M337.3 64.4h0M350.9 62.0h0M342.4 63.1h0M357.5 58.5h0M350.1 62.5h0M361.5 59.0h0M365.4 58.8h0M364.0 63.1h0M362.4 62.9h0M347.8 60.5h0M347.3 56.1h0M347.4 59.3h0M358.4 62.0h0M342.1 61.4h0M344.8 64.7h0M342.0 58.6h0M336.3 61.8h0M351.4 59.0h0M347.5 57.8h0M365.7 59.1h0M353.4 63.0h0M360.2 61.0h0M366.2 58.2h0M354.8 60.0h0M347.4 58.1h0M356.9 57.4h0M349.6 56.9h0M337.9 60.8h0M344.2 64.0h0M340.0 59.3h0M362.1 60.0h0M345.2 58.2h0M338.6 57.0h0M355.1 58.8h0M361.1 64.7h0M346.3 61.9h0M355.3 58.3h0M358.7 59.5h0M358.3 64.4h0M356.1 59.7h0M341.9 62.6h0M343.2 61.2h0M340.3 60.8h0M338.8 57.3h0M344.6 60.9h0M359.0 59.8h0M360.1 58.9h0M350.2 61.6h0M338.6 64.0h0M365.2 63.0h0M341.2 55.8h0M361.8 62.3h0M352.0 63.6h0M346.4 56.7h0M337.5 57.3h0M344.2 64.8h0M362.7 62.9h0M345.0 62.0h0M343.5 61.4h0M354.4 61.9h0M349.8 57.3h0M364.6 63.9h0M342.9 57.6h0M342.7 60.4h0M351.7 62.6h0M362.1 59.3h0M357.6 60.2h0M340.8 60.2h0M359.9 59.8h0M360.7 61.8h0M349.7 58.4h0M349.9 58.3h0M360.2 61.3h0M339.4 63.1h0M359.1 59.1h0M356.4 56.9h0M347.8 58.0h0M361.8 57.8h0M353.4 61.2h0M347.9 56.2h0M364.0 62.8h0M352.6 62.7h0M344.8 60.7h0M354.9 57.0h0M355.1 60.6h0M358.8 64.1h0M337.0 58.5h0M337.7 58.7h0M349.0 62.9h0M339.0 59.0h0M338.5 63.9h0M342.8 59.8h0M363.6 57.0h0M363.9 59.8h0M359.3 57.2h0M348.4 61.5h0M351.9 58.3h0M352.7 59.1h0M359.9 61.6h0M354.2 57.8h0M345.8 58.0h0M353.7 56.9h0M349.0 60.1h0M341.6 62.4h0M345.1 57.9h0M357.4 57.9h0M355.9 60.2h0M350.5 61.0h0M346.5 60.2h0M344.7 61.6h0M358.0 59.7h0M342.0 63.4h0M342.8 59.5h0M341.9 63.7h0M360.3 60.7h0M338.5 59.7h0M352.8 63.5h0M341.1 58.1h0M348.2 57.8h0M342.5 58.1h0M343.2 62.9h0M348.8 63.4h0M339.9 63.6h0M347.7 57.5h0M340.1 61.7h0M345.1 60.3h0M345.1 59.0h0M355.0 61.1h0M344.8 61.1h0M355.6 63.7h0M346.5 64.0h0M361.3 62.3h0M344.5 62.8h0M353.1 58.9h0M344.7 60.3h0M356.5 58.4h0M349.7 57.1h0M343.9 60.1h0M347.5 61.1h0M347.8 58.4h0M362.4 63.9h0M350.1 62.1h0M356.9 63.0h0M345.3 59.0h0M347.9 62.3h0M355.0 61.4h0M343.7 58.5h0M356.1 60.4h0M358.9 60.3h0M338.6 57.6h0M359.4 63.9h0M344.3 58.1h0M355.2 58.7h0M346.2 64.0h0M360.7 58.0h0M356.1 60.4h0M358.6 59.6h0M348.7 61.9h0M356.9 63.2h0M357.8 63.5h0M348.1 62.4h0M360.6 63.2h0M356.8 62.6h0M347.0 63.2h0M344.3 57.3h0M341.5 63.8h0M361.7 61.9h0M343.3 57.8h0M350.2 60.2h0M360.7 63.1h0M352.8 61.0h0M347.8 59.1h0M353.7 59.6h0M339.2 60.3h0M358.3 61.9h0M352.7 59.9h0M344.9 60.9h0M347.2 58.0h0M356.5 57.5h0M354.2 61.5h0M340.5 58.7h0M361.3 58.2h0M352.3 62.7h0M353.2 64.1h0M353.0 63.8h0M338.8 62.4h0M361.5 61.3h0M351.2 56.4h0M346.6 62.6h0M338.9 58.3h0M348.0 61.6h0M352.9 64.3h0M357.8 60.7h0M347.5 59.1h0M352.3 56.4h0M344.0 58.5h0M358.3 64.0h0M340.2 58.4h0M345.8 57.6h0M357.6 62.9h0M358.7 63.8h0M345.4 62.9h0M341.2 60.9h0M359.2 63.0h0M360.5 62.6h0M358.7 58.9h0M352.5 64.0h0M344.3 57.5h0M357.5 57.6h0M345.6 62.4h0M343.0 63.6h0M343.5 58.2h0M355.1 62.0h0M359.2 57.8h0M347.0 62.9h0M356.7 58.0h0M347.9 62.7h0M343.7 63.5h0M353.5 63.6h0M360.6 63.4h0M344.9 60.9h0M357.5 64.4h0M349.5 64.0h0M348.3 62.8h0M360.6 60.5h0M345.1 63.7h0M361.0 63.7h0M342.8 63.0h0M348.8 63.1h0M357.7 59.3h0M356.2 58.7h0M357.9 63.8h0M343.7 61.6h0M360.8 59.6h0M342.0 61.5h0M350.1 59.6h0M349.4 62.2h0M351.4 59.6h0M349.2 61.5h0M344.1 59.7h0M357.8 62.4h0M348.7 57.5h0M340.0 59.3h0M361.0 57.4h0M351.8 57.3h0M351.3 61.7h0M345.1 58.7h0M343.4 61.7h0M371.8 61.7h0M371.8 64.4h0M375.0 58.3h0M371.5 58.6h0M373.5 62.2h0M371.0 60.5h0M375.9 62.3h0M378.2 64.6h0M367.2 61.4h0M372.1 58.8h0M376.4 60.9h0M367.5 60.7h0M367.0 63.7h0M374.5 62.6h0M369.0 62.7h0M369.4 58.7h0M371.5 58.3h0M377.3 59.2h0M368.3 60.1h0M379.0 62.8h0M375.7 64.2h0M380.0 60.0h0M368.5 58.3h0M377.9 64.0h0M370.6 60.5h0M368.7 62.0h0M372.6 63.6h0M375.8 64.0h0M373.9 58.7h0M378.4 64.0h0M379.5 59.5h0M374.3 60.8h0M376.0 61.2h0M380.2 58.6h0M370.8 61.6h0M369.4 61.9h0M378.5 63.3h0M373.6 60.3h0M378.7 64.9h0M368.4 58.2h0M378.3 61.2h0M368.6 63.1h0M376.1 61.2h0M378.1 60.7h0M376.5 59.9h0M374.8 58.3h0M378.0 64.1h0M379.6 62.6h0M376.5 64.1h0M371.9 59.2h0M382.2 66.7h0M384.9 66.0h0M336.0 69.5h0M348.6 67.3h0M350.9 67.5h0M350.8 67.5h0M348.8 67.9h0M356.5 68.0h0M364.1 66.8h0M358.7 67.5h0M356.3 67.9h0M354.7 68.1h0M357.5 67.4h0M356.6 67.4h0M353.1 67.9h0M348.8 67.8h0M359.2 66.9h0M346.8 73.2h0M347.2 73.2h0M347.4 72.4h0M341.5 72.0h0M346.3 72.9h0M345.5 72.1h0M346.5 72.5h0M343.5 72.7h0M343.4 73.2h0M342.4 72.6h0M343.9 72.2h0M341.8 71.7h0M344.4 73.1h0M347.4 73.1h0M346.6 72.5h0M347.8 71.7h0M362.5 74.8h0M358.6 74.0h0M363.2 75.7h0M364.4 75.1h0M360.2 76.7h0M357.6 75.6h0M358.4 74.4h0M362.1 77.2h0M359.1 74.6h0M361.6 73.4h0M357.3 74.3h0M362.4 74.0h0M361.4 74.8h0M357.7 74.4h0M358.4 74.7h0M360.0 74.5h0M360.1 73.9h0M364.5 76.3h0M362.1 74.2h0M363.7 75.4h0M361.2 74.8h0M362.4 75.6h0M360.7 74.3h0M363.2 74.2h0M358.9 76.2h0M363.0 74.6h0M357.8 74.4h0M361.4 74.3h0M371.8 77.1h0M352.0 75.4h0M369.0 75.8h0M327.0 81.5h0M324.2 86.4h0M324.3 86.5h0M327.0 86.2h0M333.9 80.5h0M327.8 79.4h0M330.1 82.7h0M333.9 84.6h0M330.4 86.7h0M324.8 83.6h0M327.9 86.7h0M329.6 78.7h0M327.4 86.3h0M324.5 85.8h0M324.2 81.5h0M324.8 79.3h0M324.9 82.2h0M329.1 85.9h0M323.7 87.5h0M333.9 85.4h0M330.1 79.5h0M333.0 83.9h0M324.2 85.2h0M333.2 85.9h0M330.9 80.1h0M331.8 81.8h0M326.1 86.8h0M327.1 86.2h0M331.5 80.8h0M333.5 78.8h0M325.7 86.1h0M328.7 82.1h0M330.7 79.8h0M324.5 85.5h0M358.5 79.9h0M344.6 84.1h0M361.1 87.9h0M359.5 82.5h0M366.7 81.8h0M358.6 83.0h0M363.9 84.2h0M360.4 79.8h0M364.4 86.5h0M341.4 87.4h0M349.4 80.3h0M341.7 82.9h0M345.0 87.6h0M362.2 82.3h0M354.8 88.9h0M359.5 80.8h0M348.2 88.5h0M363.0 81.7h0M338.0 84.5h0M346.1 84.4h0M346.3 85.2h0M351.2 80.3h0M351.2 86.9h0M364.6 83.4h0M342.5 88.8h0M341.2 82.8h0M356.3 83.3h0M364.7 81.7h0M365.8 80.0h0M353.6 86.5h0M339.1 85.5h0M366.4 87.9h0M344.8 84.6h0M366.8 81.8h0M362.8 87.8h0M344.6 82.3h0M358.7 87.4h0M339.3 80.7h0M340.7 83.7h0M362.7 84.2h0M344.1 85.9h0M358.0 84.2h0M363.4 80.9h0M353.4 87.5h0M350.9 85.3h0M350.6 85.9h0M341.3 87.9h0M364.1 86.2h0M355.4 83.6h0M343.2 81.0h0M339.5 81.6h0M351.1 82.5h0M352.0 86.1h0M347.3 80.5h0M355.2 81.1h0M359.7 80.6h0M355.9 83.4h0M357.7 81.2h0M350.3 87.9h0M354.0 85.4h0M359.8 88.9h0M349.7 85.2h0M363.8 88.5h0M339.1 86.6h0M357.2 79.7h0M340.0 80.3h0M353.0 86.8h0M350.4 85.0h0M353.7 80.7h0M344.4 84.9h0M338.2 87.2h0M340.7 83.9h0M348.5 88.1h0M365.1 80.4h0M338.8 84.6h0M346.7 85.3h0M337.6 80.8h0M367.9 79.5h0M350.7 87.1h0M361.4 79.8h0M340.7 83.5h0M344.6 82.5h0M337.9 86.3h0M360.3 85.7h0M365.7 86.1h0M344.0 88.5h0M338.9 88.3h0M352.2 85.8h0M346.8 86.1h0M363.9 86.9h0M354.1 80.9h0M340.1 80.5h0M359.0 81.0h0M359.6 81.3h0M354.1 81.4h0M362.7 80.6h0M345.1 82.4h0M352.5 84.8h0M355.9 82.6h0M338.3 80.9h0M340.8 81.6h0M337.8 82.1h0M348.9 82.1h0M344.5 83.3h0M348.2 86.2h0M352.7 87.4h0M351.5 88.1h0M340.3 80.9h0M346.4 84.7h0M356.0 80.2h0M363.6 79.8h0M360.9 81.9h0M363.9 82.4h0M365.7 86.1h0M344.2 86.7h0M343.2 85.5h0M355.6 86.1h0M343.3 81.9h0M342.2 87.5h0M357.6 85.0h0M353.6 84.7h0M356.4 82.3h0M354.7 87.7h0M348.7 87.2h0M367.4 85.4h0M358.1 86.0h0M343.3 81.7h0M361.2 84.7h0M350.0 87.5h0M367.8 85.2h0M352.9 82.7h0M337.4 82.6h0M340.3 81.4h0M350.4 84.8h0M349.2 84.6h0M366.7 83.0h0M358.9 80.0h0M341.5 83.7h0M349.6 84.6h0M366.1 86.4h0M348.8 84.6h0M355.8 83.3h0M356.6 83.9h0M346.0 82.0h0M352.4 81.6h0M362.0 86.7h0M359.0 87.1h0M348.4 86.9h0M351.8 84.3h0M339.4 85.5h0M363.9 84.2h0M340.5 86.9h0M351.9 87.3h0M356.4 81.6h0M345.0 85.2h0M351.0 85.9h0M353.3 88.5h0M365.5 83.1h0M350.9 88.2h0M340.1 87.3h0M351.5 84.5h0M361.4 88.5h0M337.5 86.0h0M350.5 87.1h0M344.4 80.6h0M349.6 85.8h0M337.7 80.7h0M354.5 87.0h0M358.5 80.5h0M344.4 87.1h0M364.3 86.8h0M352.4 80.9h0M344.4 85.6h0M363.5 88.0h0M345.2 81.7h0M362.0 84.7h0M336.9 86.0h0M353.3 85.6h0M340.0 86.8h0M353.0 85.6h0M343.6 82.6h0M349.1 84.6h0M342.4 83.7h0M359.6 82.6h0M355.8 84.7h0M346.1 84.9h0M344.2 82.4h0M345.6 86.9h0M345.5 80.4h0M363.1 83.2h0M358.3 86.8h0M357.8 81.6h0M345.9 84.8h0M364.2 83.5h0M352.9 88.2h0M352.6 81.6h0M355.6 87.6h0M360.6 85.8h0M355.1 79.8h0M351.4 79.8h0M343.0 81.5h0M358.2 84.7h0M360.3 86.5h0M348.7 86.2h0M340.1 87.4h0M355.2 84.5h0M343.8 84.1h0M340.0 86.4h0M359.8 84.8h0M362.9 85.5h0M344.4 86.8h0M351.4 86.1h0M350.9 86.0h0M345.4 85.6h0M340.8 83.7h0M358.8 84.2h0M361.4 85.4h0M354.3 84.3h0M343.9 82.6h0M360.3 85.3h0M351.3 81.2h0M350.0 87.3h0M356.5 83.4h0M359.3 85.3h0M346.4 85.4h0M360.6 83.6h0M341.8 83.6h0M353.3 83.0h0M356.1 82.4h0M344.7 86.8h0M362.6 84.2h0M341.8 84.3h0M363.6 82.2h0M364.0 86.8h0M341.8 83.2h0M349.6 86.3h0M362.0 86.1h0M355.6 81.1h0M361.7 87.7h0M344.1 84.4h0M358.6 87.9h0M360.6 84.6h0M353.7 84.3h0M356.5 83.3h0M361.2 87.1h0M341.3 81.4h0M363.1 86.9h0M352.4 83.5h0M363.5 84.5h0M343.3 86.6h0M351.5 82.0h0M362.5 81.9h0M345.1 84.0h0M349.4 82.9h0M363.6 84.7h0M348.2 85.2h0M349.0 83.5h0M346.9 85.2h0M349.6 83.5h0M353.3 83.0h0M341.7 82.1h0M343.7 86.6h0M345.3 82.0h0M356.3 86.1h0M355.8 85.5h0M350.9 87.4h0M348.6 85.9h0M360.9 84.5h0M345.8 85.6h0M353.6 86.4h0M363.4 81.5h0M364.6 84.5h0M350.1 84.6h0M347.1 85.2h0M361.4 83.2h0M360.6 85.1h0M348.1 84.5h0M360.2 83.1h0M359.8 81.5h0M341.2 81.0h0M351.8 84.4h0M349.8 86.7h0M353.8 82.3h0M363.3 84.5h0M353.4 85.8h0M343.3 80.8h0M343.0 87.0h0M356.0 87.2h0M351.8 86.3h0M351.5 81.7h0M357.2 78.5h0M360.1 77.6h0M347.1 77.6h0M365.4 77.2h0M369.5 77.6h0M364.8 77.2h0M352.0 78.4h0M355.7 77.7h0M354.0 78.2h0M367.3 78.2h0M359.7 78.2h0M368.9 77.9h0M351.2 77.8h0M368.9 77.3h0M341.2 78.3h0M367.1 78.7h0M353.8 77.6h0M354.7 77.4h0M366.3 78.1h0M353.6 77.6h0M355.5 77.9h0M356.2 77.7h0M344.9 78.6h0M338.6 78.3h0M348.2 77.5h0M358.1 78.3h0M339.9 77.9h0M358.9 77.5h0M343.3 77.0h0M351.3 78.5h0M373.8 80.9h0M373.8 83.5h0M375.1 81.6h0M373.2 81.1h0M377.7 81.4h0M370.5 84.2h0M370.7 80.7h0M372.8 83.5h0M376.7 85.2h0M375.4 80.7h0M372.4 83.9h0M372.5 84.3h0M371.2 83.3h0M371.6 83.9h0M374.3 84.7h0M369.9 83.8h0M371.8 84.5h0M370.3 83.5h0M372.1 85.6h0M373.3 81.1h0M375.1 83.8h0M370.4 83.9h0M376.5 79.1h0M379.8 81.5h0M379.9 82.1h0M375.9 80.2h0M380.6 81.3h0M377.7 79.9h0M376.9 80.1h0M380.1 81.1h0M376.6 78.9h0M377.3 80.8h0M374.4 80.1h0M379.7 79.2h0M380.5 79.2h0M384.9 79.2h0M383.0 81.0h0M339.0 97.2h0M341.2 97.2h0M369.1 100.3h0M360.7 97.4h0M355.3 98.7h0M370.0 99.1h0M355.5 99.6h0M365.6 98.1h0M351.0 99.6h0M351.6 98.1h0M349.2 99.9h0M351.4 97.6h0M361.5 98.5h0M370.5 99.5h0M357.7 100.4h0M364.8 100.6h0M360.1 98.9h0M366.4 97.1h0M359.2 99.2h0M358.1 99.7h0M354.8 98.2h0M367.9 98.4h0M369.9 99.1h0M355.7 99.0h0M348.8 99.8h0M352.3 98.1h0M352.0 100.3h0M349.8 98.4h0M355.4 97.6h0M370.3 100.4h0M350.2 98.3h0M363.4 98.5h0M353.8 98.9h0M363.6 99.9h0M359.6 99.2h0M360.4 98.7h0M347.5 99.3h0M352.5 99.0h0M358.1 99.7h0M360.3 97.3h0M354.2 99.2h0M356.1 98.5h0M364.6 99.0h0M369.4 100.2h0M356.3 99.3h0M355.6 100.0h0M369.2 98.3h0M348.8 98.4h0M359.8 99.1h0M353.9 97.3h0M367.5 97.4h0M354.4 99.8h0M363.1 98.3h0M358.4 99.0h0M351.2 99.5h0M365.6 98.0h0M361.3 98.2h0M369.4 99.7h0M352.4 99.9h0M350.9 99.1h0M356.3 99.5h0M360.0 98.0h0M382.8 97.6h0M386.4 98.3h0M385.9 97.5h0M380.7 97.5h0M387.0 98.1h0M386.0 98.1h0M386.0 98.4h0M383.4 98.5h0M383.0 97.4h0M387.1 98.9h0M395.7 99.6h0M395.1 98.3h0M394.3 99.7h0M395.0 98.4h0M396.0 98.5h0M393.4 98.5h0M402.1 97.3h0M405.7 97.5h0M403.9 97.2h0M404.4 97.1h0M405.5 98.0h0M415.0 97.6h0M374.5 98.4h0M376.5 97.6h0M351.8 103.2h0M352.4 105.3h0M359.0 101.2h0M353.0 108.7h0M348.6 106.5h0M348.3 105.2h0M348.0 110.6h0M348.0 106.4h0M359.8 105.9h0M352.8 106.6h0M350.0 104.7h0M355.1 110.7h0M351.6 108.7h0M356.2 103.3h0M355.7 102.6h0M351.9 109.3h0M349.8 106.5h0M358.8 109.0h0M347.9 107.8h0M349.8 107.0h0M356.5 110.8h0M351.2 106.4h0M352.5 102.3h0M348.2 109.8h0M352.5 109.2h0M358.8 102.8h0M354.2 102.0h0M355.3 106.5h0M360.6 110.1h0M359.0 102.7h0M356.6 109.9h0M355.2 101.6h0M353.6 110.5h0M352.6 101.8h0M355.2 107.3h0M360.2 106.6h0M353.6 104.3h0M353.2 105.4h0M358.7 104.9h0M353.9 102.9h0M346.9 110.2h0M358.9 102.2h0M356.8 109.3h0M348.1 111.0h0M349.0 104.9h0M359.8 103.9h0M359.0 109.9h0M360.0 105.4h0M350.4 108.2h0M355.1 101.8h0M359.4 109.7h0M360.1 103.0h0M354.9 108.1h0M353.9 110.7h0M347.6 108.1h0M353.3 109.6h0M353.6 108.0h0M352.7 102.1h0M380.1 106.1h0M373.7 102.5h0M364.3 102.2h0M372.8 106.4h0M373.9 103.3h0M370.5 105.8h0M378.4 103.8h0M362.7 102.9h0M380.5 105.1h0M378.7 104.8h0M367.3 104.9h0M368.9 105.6h0M374.4 102.7h0M365.9 104.5h0M366.9 102.3h0M380.2 104.9h0M370.9 104.8h0M379.1 101.8h0M377.0 106.6h0M380.1 104.0h0M377.5 104.9h0M375.3 105.9h0M369.2 102.9h0M371.2 103.4h0M367.4 103.2h0M379.4 104.0h0M362.8 102.9h0M379.8 102.0h0M366.9 103.5h0M371.4 105.8h0M372.1 101.9h0M373.7 106.4h0M369.4 104.8h0M363.3 103.7h0M371.5 105.4h0M374.5 106.4h0M366.9 110.3h0M371.7 109.5h0M366.0 110.3h0M371.1 109.5h0M367.7 110.1h0M371.4 109.6h0M369.9 110.9h0M371.2 110.6h0M369.8 109.9h0M365.4 108.9h0M365.1 108.5h0M367.2 111.2h0M368.0 111.3h0M367.8 111.2h0M379.2 111.9h0M376.0 109.9h0M335.2 105.2h0M326.3 111.0h0M314.8 110.2h0M314.8 111.6h0M314.8 113.2h0M334.5 110.7h0M337.5 109.5h0M340.0 111.1h0M343.0 109.1h0M345.5 110.7h0M338.9 117.0h0M342.5 118.2h0M343.1 117.2h0M338.4 117.1h0M334.6 119.2h0M333.6 118.8h0M340.2 118.8h0M340.6 118.8h0M338.1 118.6h0M340.5 117.8h0M339.6 119.9h0M341.0 117.7h0M340.5 119.3h0M335.3 119.1h0" fill="none" stroke="#163e72" stroke-width="3.0" stroke-linecap="round"/>
<path d="M276.5 74.8L295.0 77.6L310.0 79.8L315.0 79.7L320.0 83.0L325.5 87.6L337.7 94.5L350.0 98.0L365.7 101.5L374.4 105.9L385.0 112.4L395.0 119.0L405.0 125.5L415.0 131.9" fill="none" stroke="#c2545f" stroke-width="0.65" stroke-linejoin="round"/>
</g>
<g>
<rect x="4.1" y="199.3" width="195.4" height="163.9" fill="#eaf2f3"/>
<rect x="13.8" y="210.7" width="180.9" height="140.6" fill="#fff"/>
<line x1="13.4" x2="194.7" y1="225.5" y2="225.5" stroke="#eef3f4" stroke-width="0.7"/>
<line x1="13.4" x2="194.7" y1="255.9" y2="255.9" stroke="#eef3f4" stroke-width="0.7"/>
<line x1="13.4" x2="194.7" y1="286.4" y2="286.4" stroke="#eef3f4" stroke-width="0.7"/>
<line x1="13.4" x2="194.7" y1="316.9" y2="316.9" stroke="#eef3f4" stroke-width="0.7"/>
<line x1="13.4" x2="194.7" y1="347.3" y2="347.3" stroke="#eef3f4" stroke-width="0.7"/>
<path d="M13.4 210.7V351.3H194.7" fill="none" stroke="#5c6164" stroke-width="0.75"/>
<line x1="10.5" x2="13.4" y1="225.5" y2="225.5" stroke="#5c6164" stroke-width="0.6"/>
<text transform="translate(8.8 225.5) scale(1 1.17) rotate(-90)" text-anchor="middle" font-size="6.3" fill="#2b2f32" stroke="#2b2f32" stroke-width="0.12">8</text>
<line x1="10.5" x2="13.4" y1="255.9" y2="255.9" stroke="#5c6164" stroke-width="0.6"/>
<text transform="translate(8.8 255.9) scale(1 1.17) rotate(-90)" text-anchor="middle" font-size="6.3" fill="#2b2f32" stroke="#2b2f32" stroke-width="0.12">6</text>
<line x1="10.5" x2="13.4" y1="286.4" y2="286.4" stroke="#5c6164" stroke-width="0.6"/>
<text transform="translate(8.8 286.4) scale(1 1.17) rotate(-90)" text-anchor="middle" font-size="6.3" fill="#2b2f32" stroke="#2b2f32" stroke-width="0.12">4</text>
<line x1="10.5" x2="13.4" y1="316.9" y2="316.9" stroke="#5c6164" stroke-width="0.6"/>
<text transform="translate(8.8 316.9) scale(1 1.17) rotate(-90)" text-anchor="middle" font-size="6.3" fill="#2b2f32" stroke="#2b2f32" stroke-width="0.12">2</text>
<line x1="10.5" x2="13.4" y1="347.3" y2="347.3" stroke="#5c6164" stroke-width="0.6"/>
<text transform="translate(8.8 347.3) scale(1 1.17) rotate(-90)" text-anchor="middle" font-size="6.3" fill="#2b2f32" stroke="#2b2f32" stroke-width="0.12">0</text>
<line x1="16.6" x2="16.6" y1="351.3" y2="353.9" stroke="#5c6164" stroke-width="0.6"/>
<text transform="translate(16.6 361.8) scale(1 1.17)" text-anchor="middle" font-size="6.0" fill="#2b2f32" stroke="#2b2f32" stroke-width="0.12">0</text>
<line x1="60.3" x2="60.3" y1="351.3" y2="353.9" stroke="#5c6164" stroke-width="0.6"/>
<text transform="translate(60.3 361.8) scale(1 1.17)" text-anchor="middle" font-size="6.0" fill="#2b2f32" stroke="#2b2f32" stroke-width="0.12">.2</text>
<line x1="103.9" x2="103.9" y1="351.3" y2="353.9" stroke="#5c6164" stroke-width="0.6"/>
<text transform="translate(103.9 361.8) scale(1 1.17)" text-anchor="middle" font-size="6.0" fill="#2b2f32" stroke="#2b2f32" stroke-width="0.12">.4</text>
<line x1="147.5" x2="147.5" y1="351.3" y2="353.9" stroke="#5c6164" stroke-width="0.6"/>
<text transform="translate(147.5 361.8) scale(1 1.17)" text-anchor="middle" font-size="6.0" fill="#2b2f32" stroke="#2b2f32" stroke-width="0.12">.6</text>
<line x1="191.1" x2="191.1" y1="351.3" y2="353.9" stroke="#5c6164" stroke-width="0.6"/>
<text transform="translate(191.1 361.8) scale(1 1.17)" text-anchor="middle" font-size="6.0" fill="#2b2f32" stroke="#2b2f32" stroke-width="0.12">.8</text>
<text x="101.9" y="192.8" text-anchor="middle" font-family="'Liberation Serif',serif" font-weight="bold" font-size="10.3" fill="#111">Pollution tax</text>
<text transform="translate(103.3 207.5) scale(1 1.17)" text-anchor="middle" font-size="7.27" fill="#1e2d53" stroke="#1e2d53" stroke-width="0.12">Lowess smoother</text>
<path transform="scale(1 1.26)" d="M19.1 172.0h0M19.8 171.3h0M20.1 171.3h0M21.4 171.3h0M21.6 171.3h0M22.6 171.4h0M23.3 171.7h0M19.3 172.4h0M20.8 172.1h0M17.2 188.0h0M17.0 189.0h0M17.2 190.1h0M17.2 191.1h0M16.7 192.1h0M17.1 193.2h0M16.8 194.2h0M17.0 195.2h0M16.9 196.3h0M17.1 197.3h0M16.8 198.3h0M17.0 199.4h0M16.8 200.4h0M17.1 201.4h0M16.9 202.5h0M17.0 203.5h0M17.2 204.5h0M16.7 205.6h0M16.6 206.6h0M17.2 207.6h0M16.9 208.7h0M17.0 209.7h0M17.1 210.7h0M17.2 211.7h0M16.8 212.8h0M17.2 213.8h0M16.8 214.8h0M17.1 217.7h0M17.1 218.7h0M16.8 219.8h0M16.8 220.8h0M16.8 221.8h0M16.8 222.9h0M16.8 223.9h0M17.1 224.9h0M16.6 226.0h0M17.2 227.0h0M17.1 228.0h0M16.9 229.0h0M17.0 230.1h0M16.8 231.1h0M17.1 232.1h0M17.2 233.2h0M16.8 234.2h0M16.9 235.2h0M16.6 243.7h0M16.6 244.7h0M17.0 245.7h0M16.9 246.7h0M16.8 247.8h0M16.9 248.8h0M16.6 249.8h0M16.5 250.9h0M16.7 251.9h0M16.9 252.9h0M16.6 254.0h0M16.8 255.0h0M16.7 256.0h0M16.6 257.1h0M17.0 258.1h0M18.4 188.9h0M18.6 190.9h0M19.5 193.0h0M21.5 193.5h0M23.5 193.8h0M23.1 197.6h0M19.6 197.9h0M26.0 197.9h0M30.1 198.2h0M29.6 198.3h0M22.9 197.8h0M28.9 198.5h0M20.0 199.0h0M20.8 198.8h0M22.9 198.0h0M25.8 198.0h0M28.0 198.8h0M20.6 198.3h0M23.9 197.7h0M28.8 201.5h0M26.2 202.2h0M24.9 200.7h0M25.7 201.9h0M32.1 202.1h0M28.4 201.5h0M21.4 201.1h0M22.5 202.2h0M33.5 201.3h0M20.8 201.9h0M25.7 202.5h0M27.7 202.0h0M31.9 201.0h0M22.8 201.8h0M30.2 201.6h0M28.0 201.4h0M29.2 201.9h0M35.4 201.5h0M27.6 202.1h0M32.4 202.3h0M26.7 205.0h0M21.1 204.6h0M26.7 204.1h0M23.2 205.4h0M19.4 205.2h0M24.1 205.0h0M22.0 204.9h0M23.9 205.3h0M27.9 204.6h0M31.0 205.4h0M24.8 204.9h0M30.4 204.4h0M25.2 204.5h0M19.3 205.3h0M21.6 206.0h0M24.4 205.1h0M28.8 205.4h0M19.5 204.9h0M24.7 203.5h0M27.3 205.7h0M22.5 203.6h0M19.2 200.4h0M20.8 200.7h0M25.7 205.5h0M23.6 204.3h0M27.8 199.7h0M25.2 204.7h0M26.2 200.0h0M28.1 200.7h0M24.9 202.6h0M22.6 201.8h0M27.6 205.7h0M27.6 199.5h0M21.2 204.0h0M21.8 206.0h0M25.7 206.7h0M27.8 205.8h0M20.3 201.5h0M26.3 205.7h0M27.8 204.2h0M24.3 203.6h0M19.5 202.7h0M20.6 203.1h0M20.2 205.8h0M19.8 200.7h0M24.5 200.8h0M24.2 200.9h0M22.6 202.9h0M36.6 207.0h0M42.6 207.1h0M28.5 207.5h0M30.4 207.2h0M36.8 206.7h0M45.9 206.9h0M40.5 207.6h0M28.2 207.1h0M38.6 207.3h0M41.2 206.3h0M35.9 206.9h0M38.7 207.1h0M34.6 206.8h0M37.9 207.8h0M35.2 207.7h0M37.6 205.9h0M40.2 206.9h0M33.4 207.1h0M44.0 206.6h0M38.2 206.8h0M30.5 206.9h0M33.0 207.3h0M34.5 206.6h0M28.2 207.0h0M43.7 207.5h0M40.4 206.6h0M44.8 201.7h0M51.3 206.8h0M55.1 206.2h0M55.9 210.5h0M58.9 209.8h0M64.3 205.6h0M67.5 208.3h0M69.5 209.4h0M72.5 208.7h0M71.1 205.0h0M75.7 204.1h0M77.2 209.8h0M78.5 203.8h0M81.0 203.6h0M84.0 203.3h0M87.0 203.2h0M90.0 203.5h0M93.0 203.3h0M105.6 204.8h0M99.4 204.5h0M98.5 203.6h0M100.7 204.3h0M101.2 203.0h0M97.3 204.0h0M101.1 204.0h0M103.2 203.9h0M106.1 203.6h0M101.1 203.6h0M102.1 204.5h0M102.6 204.1h0M98.7 204.3h0M98.9 204.0h0M35.5 216.2h0M47.3 215.8h0M38.8 216.3h0M41.8 217.1h0M53.1 217.0h0M51.8 216.3h0M46.8 216.9h0M37.9 217.3h0M52.6 216.8h0M39.3 215.9h0M35.0 217.2h0M52.4 216.4h0M33.7 216.4h0M52.4 216.7h0M41.5 216.3h0M47.7 216.8h0M36.4 216.7h0M44.4 216.4h0M46.9 216.8h0M52.4 215.6h0M41.7 215.9h0M48.0 216.8h0M35.6 216.7h0M44.6 216.8h0M42.0 216.6h0M40.5 216.9h0M41.5 216.3h0M40.2 216.6h0M45.4 217.3h0M48.7 216.1h0M37.4 216.1h0M40.5 215.8h0M54.5 216.1h0M47.4 217.5h0M47.3 216.3h0M52.7 215.9h0M59.0 215.5h0M61.5 216.3h0M66.5 216.5h0M30.0 218.0h0M28.3 218.7h0M28.1 218.2h0M28.1 218.0h0M26.7 217.9h0M27.9 218.0h0M25.4 220.6h0M19.7 220.8h0M26.6 221.4h0M27.4 220.8h0M24.6 220.5h0M23.7 221.0h0M20.2 220.0h0M18.1 220.9h0M23.5 220.1h0M18.9 220.4h0M23.9 220.6h0M26.4 220.5h0M22.2 226.5h0M27.5 230.5h0M20.7 231.9h0M20.7 225.7h0M23.4 231.2h0M25.6 229.0h0M19.5 232.1h0M26.2 227.5h0M22.4 230.1h0M24.4 232.4h0M23.4 231.6h0M28.2 224.4h0M23.1 231.1h0M21.6 225.7h0M27.0 226.4h0M22.4 231.5h0M28.3 222.9h0M23.1 232.4h0M28.3 226.7h0M18.7 226.6h0M19.5 229.4h0M19.5 231.5h0M21.8 226.2h0M23.7 228.4h0M24.8 227.8h0M26.1 228.6h0M25.4 226.8h0M22.9 228.4h0M23.4 223.9h0M26.9 228.4h0M28.6 226.1h0M23.1 229.9h0M28.5 230.1h0M23.1 232.4h0M27.8 223.6h0M24.7 230.8h0M21.2 228.7h0M27.4 228.5h0M20.9 231.1h0M20.9 229.6h0M22.8 226.0h0M25.0 230.1h0M21.0 232.8h0M24.9 224.7h0M25.6 229.8h0M26.1 232.7h0M26.6 233.7h0M22.3 228.3h0M20.3 223.7h0M24.1 225.9h0M23.5 232.0h0M22.0 227.7h0M24.5 232.4h0M27.4 224.3h0M19.9 229.0h0M22.3 228.9h0M23.5 225.3h0M26.7 227.1h0M21.4 227.2h0M24.0 224.8h0M26.0 232.1h0M20.4 228.9h0M27.6 230.4h0M26.4 224.0h0M21.7 232.0h0M27.2 227.1h0M26.8 223.3h0M23.7 225.4h0M25.5 232.7h0M23.4 226.3h0M19.7 225.1h0M21.0 225.5h0M24.6 229.4h0M21.2 222.9h0M19.7 228.7h0M23.8 228.6h0M27.2 233.2h0M24.9 226.9h0M19.5 231.2h0M26.2 226.6h0M18.4 231.2h0M22.0 224.9h0M26.9 228.2h0M26.6 224.4h0M19.6 228.8h0M27.9 228.6h0M21.8 232.4h0M21.3 225.2h0M27.7 225.2h0M25.5 223.6h0M40.2 230.2h0M32.2 231.4h0M32.7 231.4h0M36.3 231.4h0M30.9 229.5h0M44.7 232.3h0M35.7 225.7h0M37.4 231.0h0M37.7 227.2h0M44.9 231.7h0M40.1 226.0h0M45.6 226.8h0M45.4 231.7h0M43.9 225.6h0M34.0 229.4h0M36.4 228.6h0M31.9 225.4h0M40.6 229.6h0M39.9 232.8h0M45.3 227.2h0M38.9 226.7h0M34.1 232.2h0M37.0 231.3h0M32.0 230.9h0M35.3 231.3h0M39.6 230.8h0M41.6 229.8h0M36.7 229.2h0M33.8 228.1h0M38.4 228.9h0M36.5 228.6h0M39.0 226.9h0M32.6 228.2h0M40.9 228.8h0M40.1 230.2h0M32.7 230.3h0M37.0 232.2h0M33.1 226.5h0M36.9 230.9h0M46.4 226.8h0M31.2 232.0h0M32.6 230.2h0M37.6 226.7h0M41.5 231.1h0M31.1 229.9h0M42.5 227.1h0M39.8 229.1h0M40.1 228.2h0M40.0 226.4h0M40.0 228.9h0M36.2 228.5h0M38.0 229.7h0M32.3 225.9h0M35.7 230.0h0M37.0 225.2h0M30.8 230.0h0M38.2 229.9h0M43.0 227.2h0M42.4 230.9h0M37.7 231.4h0M42.7 228.1h0M40.0 229.0h0M36.0 231.8h0M43.2 229.1h0M31.8 228.6h0M35.6 230.2h0M34.8 226.3h0M41.2 231.7h0M45.6 227.8h0M38.1 231.8h0M37.2 223.2h0M35.3 222.0h0M33.8 222.1h0M33.6 223.8h0M36.4 222.8h0M34.2 222.3h0M33.3 222.8h0M33.7 222.6h0M37.3 223.5h0M37.3 223.2h0M55.8 230.7h0M60.0 227.7h0M56.5 227.8h0M64.5 230.3h0M67.6 228.9h0M64.2 229.3h0M56.5 227.7h0M58.9 227.1h0M64.2 230.3h0M62.9 229.3h0M60.1 227.2h0M59.3 231.2h0M62.7 230.2h0M63.7 227.9h0M59.6 228.7h0M60.6 231.7h0M58.6 229.2h0M62.2 230.1h0M65.8 231.5h0M62.1 227.2h0M58.2 230.5h0M57.6 230.9h0M61.8 227.3h0M57.8 226.0h0M58.3 228.6h0M60.9 228.5h0M60.1 229.0h0M63.2 227.1h0M61.8 231.3h0M59.9 227.2h0M62.6 231.8h0M65.3 230.4h0M50.1 229.4h0M50.8 228.8h0M50.9 230.3h0M50.5 228.6h0M53.0 229.3h0M51.5 228.6h0M50.6 227.1h0M51.2 230.1h0M75.9 229.3h0M74.3 227.8h0M75.7 227.7h0M73.2 227.8h0M76.7 228.5h0M73.6 227.7h0M73.7 229.6h0M73.1 228.5h0M26.6 242.8h0M26.8 241.6h0M26.5 242.7h0M29.9 241.5h0M30.8 242.3h0M27.2 242.9h0M29.1 243.3h0M28.0 243.2h0M26.0 243.6h0M28.6 242.6h0M24.3 242.7h0M25.0 242.0h0M25.4 243.0h0M28.2 243.0h0M38.3 242.9h0M40.6 243.1h0M36.5 243.4h0M40.4 242.6h0M35.6 243.3h0M33.3 242.3h0M35.0 242.1h0M36.8 242.8h0M49.6 242.5h0M52.0 241.9h0M54.4 242.7h0M58.0 242.2h0M61.6 242.5h0M64.0 242.1h0M66.4 242.4h0M77.7 242.3h0M84.4 242.9h0M87.0 244.0h0M90.0 243.0h0M93.0 243.8h0M96.0 242.9h0M97.7 244.1h0M112.8 242.3h0M25.5 249.3h0M31.5 250.8h0M28.9 249.7h0M30.3 249.5h0M25.9 249.2h0M30.7 249.7h0M27.4 250.1h0M28.2 248.6h0M28.0 250.2h0M31.1 251.0h0M29.4 250.5h0M26.5 250.2h0M35.5 252.2h0M35.9 252.8h0M38.4 253.9h0M37.2 254.8h0M34.8 253.7h0M34.3 252.6h0M34.0 254.8h0M34.0 252.9h0M50.8 254.1h0M54.4 253.2h0M61.6 254.4h0M64.0 253.3h0M66.4 254.6h0M72.9 253.2h0M74.5 254.6h0M76.0 253.6h0M79.6 254.8h0M85.6 255.1h0M90.4 255.1h0M101.2 254.8h0M55.6 258.9h0M56.8 262.7h0M68.8 263.1h0M94.0 263.7h0M103.2 263.7h0M103.2 261.5h0M80.3 264.1h0M84.6 261.0h0M88.1 262.8h0M87.6 261.7h0M84.9 263.6h0M85.5 263.3h0M86.2 262.3h0M87.5 264.2h0M86.1 263.5h0M84.3 262.0h0M88.2 262.1h0M80.6 261.9h0M83.9 262.2h0M87.0 262.8h0M162.3 256.3h0M179.8 254.8h0" fill="none" stroke="#163e72" stroke-width="3.0" stroke-linecap="round"/>
<path d="M16.9 275.1L22.0 274.2L27.0 273.6L29.9 273.6L35.2 275.9L39.0 279.0L42.9 282.0L47.0 283.7L51.3 285.0L57.4 286.3L63.5 287.3L70.0 288.5L78.0 289.6L85.0 291.4L95.0 291.4L104.6 291.0L125.0 294.6L150.0 298.8L179.8 303.9" fill="none" stroke="#c2545f" stroke-width="0.65" stroke-linejoin="round"/>
</g>
<g>
<rect x="258.4" y="198.4" width="195.5" height="165.4" fill="#eaf2f3"/>
<rect x="268.1" y="209.1" width="180.8" height="142.9" fill="#fff"/>
<line x1="267.7" x2="448.9" y1="224.6" y2="224.6" stroke="#eef3f4" stroke-width="0.7"/>
<line x1="267.7" x2="448.9" y1="255.4" y2="255.4" stroke="#eef3f4" stroke-width="0.7"/>
<line x1="267.7" x2="448.9" y1="286.2" y2="286.2" stroke="#eef3f4" stroke-width="0.7"/>
<line x1="267.7" x2="448.9" y1="317.0" y2="317.0" stroke="#eef3f4" stroke-width="0.7"/>
<line x1="267.7" x2="448.9" y1="347.8" y2="347.8" stroke="#eef3f4" stroke-width="0.7"/>
<path d="M267.7 209.1V352.0H448.9" fill="none" stroke="#5c6164" stroke-width="0.75"/>
<line x1="264.8" x2="267.7" y1="224.6" y2="224.6" stroke="#5c6164" stroke-width="0.6"/>
<text transform="translate(263.1 224.6) scale(1 1.17) rotate(-90)" text-anchor="middle" font-size="6.0" fill="#2b2f32" stroke="#2b2f32" stroke-width="0.12">8</text>
<line x1="264.8" x2="267.7" y1="255.4" y2="255.4" stroke="#5c6164" stroke-width="0.6"/>
<text transform="translate(263.1 255.4) scale(1 1.17) rotate(-90)" text-anchor="middle" font-size="6.0" fill="#2b2f32" stroke="#2b2f32" stroke-width="0.12">6</text>
<line x1="264.8" x2="267.7" y1="286.2" y2="286.2" stroke="#5c6164" stroke-width="0.6"/>
<text transform="translate(263.1 286.2) scale(1 1.17) rotate(-90)" text-anchor="middle" font-size="6.0" fill="#2b2f32" stroke="#2b2f32" stroke-width="0.12">4</text>
<line x1="264.8" x2="267.7" y1="317.0" y2="317.0" stroke="#5c6164" stroke-width="0.6"/>
<text transform="translate(263.1 317.0) scale(1 1.17) rotate(-90)" text-anchor="middle" font-size="6.0" fill="#2b2f32" stroke="#2b2f32" stroke-width="0.12">2</text>
<line x1="264.8" x2="267.7" y1="347.8" y2="347.8" stroke="#5c6164" stroke-width="0.6"/>
<text transform="translate(263.1 347.8) scale(1 1.17) rotate(-90)" text-anchor="middle" font-size="6.0" fill="#2b2f32" stroke="#2b2f32" stroke-width="0.12">0</text>
<line x1="270.4" x2="270.4" y1="352.0" y2="354.6" stroke="#5c6164" stroke-width="0.6"/>
<text transform="translate(270.4 362.5) scale(1 1.17)" text-anchor="middle" font-size="5.7" fill="#2b2f32" stroke="#2b2f32" stroke-width="0.12">0</text>
<line x1="314.1" x2="314.1" y1="352.0" y2="354.6" stroke="#5c6164" stroke-width="0.6"/>
<text transform="translate(314.1 362.5) scale(1 1.17)" text-anchor="middle" font-size="5.7" fill="#2b2f32" stroke="#2b2f32" stroke-width="0.12">.1</text>
<line x1="357.9" x2="357.9" y1="352.0" y2="354.6" stroke="#5c6164" stroke-width="0.6"/>
<text transform="translate(357.9 362.5) scale(1 1.17)" text-anchor="middle" font-size="5.7" fill="#2b2f32" stroke="#2b2f32" stroke-width="0.12">.2</text>
<line x1="401.6" x2="401.6" y1="352.0" y2="354.6" stroke="#5c6164" stroke-width="0.6"/>
<text transform="translate(401.6 362.5) scale(1 1.17)" text-anchor="middle" font-size="5.7" fill="#2b2f32" stroke="#2b2f32" stroke-width="0.12">.3</text>
<line x1="445.3" x2="445.3" y1="352.0" y2="354.6" stroke="#5c6164" stroke-width="0.6"/>
<text transform="translate(445.3 362.5) scale(1 1.17)" text-anchor="middle" font-size="5.7" fill="#2b2f32" stroke="#2b2f32" stroke-width="0.12">.4</text>
<text x="356.6" y="192.8" text-anchor="middle" font-family="'Liberation Serif',serif" font-weight="bold" font-size="10.3" fill="#111">Resource tax</text>
<text transform="translate(358.0 205.5) scale(1 1.17)" text-anchor="middle" font-size="7.27" fill="#1e2d53" stroke="#1e2d53" stroke-width="0.12">Lowess smoother</text>
<path transform="scale(1 1.26)" d="M270.7 171.4h0M270.7 187.6h0M270.7 188.9h0M270.7 190.2h0M270.7 191.4h0M270.7 192.7h0M270.7 194.0h0M270.7 195.2h0M270.7 196.5h0M270.7 197.8h0M270.7 199.0h0M270.7 200.3h0M270.7 201.6h0M270.7 202.9h0M270.7 204.1h0M270.7 205.4h0M270.7 206.7h0M270.7 207.9h0M270.7 209.2h0M270.7 210.5h0M270.7 211.7h0M270.7 213.0h0M270.7 217.8h0M270.7 219.0h0M270.7 220.3h0M270.7 221.6h0M270.7 222.9h0M270.7 224.1h0M270.7 225.4h0M270.7 226.7h0M270.7 227.9h0M270.7 229.2h0M270.7 230.5h0M270.7 231.7h0M270.7 233.0h0M270.7 234.3h0M270.7 243.7h0M270.7 244.9h0M270.7 246.2h0M270.7 247.5h0M270.7 248.7h0M270.7 250.0h0M270.7 251.3h0M270.7 252.5h0M270.7 253.8h0M270.7 255.1h0M270.7 256.3h0M270.7 257.6h0M270.7 258.9h0M270.7 260.2h0M270.7 261.4h0M270.7 262.7h0M270.7 264.0h0M270.7 265.2h0M275.1 169.4h0M275.1 170.8h0M275.1 198.0h0M275.1 199.3h0M275.1 200.6h0M275.1 201.8h0M275.1 203.1h0M275.1 207.4h0M275.1 223.0h0M275.1 224.3h0M275.1 225.6h0M275.1 226.8h0M275.1 228.1h0M275.1 229.4h0M275.1 230.6h0M275.1 241.7h0M275.1 242.9h0M275.1 244.2h0M275.1 245.5h0M279.4 198.0h0M279.4 199.3h0M279.4 200.6h0M279.4 201.8h0M279.4 203.1h0M279.4 204.4h0M279.4 205.6h0M279.4 227.0h0M279.4 228.3h0M279.4 241.7h0M279.4 242.9h0M279.4 244.2h0M279.4 245.5h0M279.4 246.7h0M283.8 198.0h0M283.8 199.3h0M283.8 200.6h0M283.8 201.8h0M283.8 203.1h0M283.8 204.4h0M283.8 205.6h0M283.8 206.9h0M283.8 217.8h0M283.8 223.8h0M283.8 225.1h0M283.8 226.3h0M283.8 227.6h0M283.8 228.9h0M283.8 230.2h0M283.8 231.4h0M283.8 232.7h0M283.8 242.9h0M283.8 244.1h0M283.8 245.4h0M283.8 246.7h0M283.8 247.9h0M283.8 252.1h0M288.1 201.2h0M288.1 202.5h0M288.1 203.7h0M288.1 205.0h0M288.1 215.7h0M288.1 217.0h0M288.1 218.3h0M288.1 227.0h0M288.1 228.3h0M288.1 229.5h0M288.1 230.8h0M288.1 232.1h0M288.1 233.3h0M288.1 251.0h0M292.5 201.2h0M292.5 202.5h0M292.5 203.7h0M292.5 205.0h0M292.5 215.7h0M292.5 217.0h0M292.5 218.3h0M292.5 219.5h0M292.5 228.2h0M292.5 229.4h0M292.5 230.7h0M292.5 232.0h0M292.5 233.3h0M292.5 241.7h0M292.5 249.0h0M296.9 202.6h0M296.9 216.7h0M296.9 217.9h0M296.9 219.2h0M296.9 220.5h0M296.9 221.7h0M296.9 223.0h0M296.9 226.2h0M296.9 227.5h0M296.9 241.7h0M296.9 250.0h0M296.9 251.3h0M296.9 252.5h0M296.9 253.8h0M296.9 255.1h0M296.9 256.3h0M301.2 215.7h0M301.2 217.0h0M301.2 223.0h0M301.2 224.3h0M301.2 225.6h0M301.2 226.8h0M301.2 228.1h0M301.2 229.4h0M301.2 247.9h0M301.2 249.2h0M301.2 250.5h0M301.2 251.7h0M301.2 253.0h0M301.2 254.3h0M301.2 255.6h0M305.6 225.1h0M305.6 226.3h0M305.6 227.6h0M305.6 228.9h0M305.6 230.2h0M305.6 231.4h0M305.6 232.7h0M305.6 240.5h0M305.6 241.7h0M305.6 243.0h0M305.6 244.3h0M305.6 249.0h0M305.6 250.2h0M305.6 251.5h0M305.6 252.8h0M305.6 254.0h0M305.6 255.3h0M309.9 205.7h0M309.9 225.1h0M309.9 226.3h0M309.9 227.6h0M309.9 228.9h0M309.9 230.2h0M309.9 241.7h0M309.9 242.9h0M309.9 244.2h0M309.9 249.2h0M309.9 250.5h0M309.9 251.7h0M309.9 253.0h0M309.9 254.3h0M309.9 255.6h0M314.3 205.7h0M314.3 216.1h0M314.3 225.1h0M314.3 226.3h0M314.3 227.6h0M314.3 228.9h0M314.3 230.2h0M314.3 241.7h0M314.3 242.9h0M314.3 244.2h0M314.3 248.0h0M314.3 249.3h0M314.3 250.6h0M314.3 251.8h0M314.3 253.1h0M314.3 254.4h0M314.3 255.6h0M318.7 205.7h0M318.7 223.0h0M318.7 224.3h0M318.7 225.6h0M318.7 226.8h0M318.7 228.1h0M318.7 242.9h0M318.7 244.1h0M318.7 245.4h0M318.7 250.0h0M318.7 251.3h0M318.7 252.5h0M318.7 253.8h0M318.7 255.1h0M323.0 225.1h0M323.0 244.8h0M327.4 215.1h0M327.4 228.2h0M327.4 242.9h0M331.7 205.7h0M331.7 215.7h0M331.7 225.1h0M336.1 215.7h0M336.1 225.1h0M336.1 250.0h0M344.8 215.7h0M344.8 243.3h0M349.2 215.7h0M353.5 228.2h0M353.5 250.4h0M357.9 250.6h0M362.3 252.1h0M371.0 228.2h0M375.3 209.5h0M375.3 224.6h0M375.3 242.1h0M375.3 250.0h0M375.3 251.3h0M379.7 209.5h0M379.7 250.6h0M384.1 209.5h0M384.1 225.7h0M388.4 209.5h0M388.4 228.8h0M397.1 208.4h0M401.5 208.7h0M401.5 210.0h0M401.5 240.6h0M401.5 241.9h0M405.9 210.1h0M405.9 227.5h0M410.2 208.9h0M423.3 209.0h0M427.7 208.7h0M436.4 241.9h0M336.3 215.7h0M345.0 216.1h0M349.0 215.7h0M336.3 225.1h0M336.3 250.5h0M345.0 243.8h0M353.3 228.4h0M370.9 228.2h0" fill="none" stroke="#163e72" stroke-width="3.0" stroke-linecap="round"/>
<path d="M270.7 273.6L273.0 271.2L275.0 270.0L278.3 273.0L283.6 276.3L287.0 276.8L291.4 281.0L295.0 283.0L299.3 286.2L304.0 287.2L309.8 289.4L314.0 290.4L319.0 292.0L328.0 291.6L338.6 290.0L354.3 286.7L374.3 281.5L395.0 276.0L413.6 271.0L436.4 264.7" fill="none" stroke="#c2545f" stroke-width="0.65" stroke-linejoin="round"/>
</g>
<g>
<rect x="4.1" y="382.9" width="194.7" height="162.7" fill="#eaf2f3"/>
<rect x="13.7" y="394.9" width="180.7" height="140.3" fill="#fff"/>
<line x1="13.3" x2="194.4" y1="409.5" y2="409.5" stroke="#eef3f4" stroke-width="0.7"/>
<line x1="13.3" x2="194.4" y1="439.9" y2="439.9" stroke="#eef3f4" stroke-width="0.7"/>
<line x1="13.3" x2="194.4" y1="470.3" y2="470.3" stroke="#eef3f4" stroke-width="0.7"/>
<line x1="13.3" x2="194.4" y1="500.7" y2="500.7" stroke="#eef3f4" stroke-width="0.7"/>
<line x1="13.3" x2="194.4" y1="531.1" y2="531.1" stroke="#eef3f4" stroke-width="0.7"/>
<path d="M13.3 394.9V535.2H194.4" fill="none" stroke="#5c6164" stroke-width="0.75"/>
<line x1="10.4" x2="13.3" y1="409.5" y2="409.5" stroke="#5c6164" stroke-width="0.6"/>
<text transform="translate(8.7 409.5) scale(1 1.17) rotate(-90)" text-anchor="middle" font-size="5.9" fill="#2b2f32" stroke="#2b2f32" stroke-width="0.12">8</text>
<line x1="10.4" x2="13.3" y1="439.9" y2="439.9" stroke="#5c6164" stroke-width="0.6"/>
<text transform="translate(8.7 439.9) scale(1 1.17) rotate(-90)" text-anchor="middle" font-size="5.9" fill="#2b2f32" stroke="#2b2f32" stroke-width="0.12">6</text>
<line x1="10.4" x2="13.3" y1="470.3" y2="470.3" stroke="#5c6164" stroke-width="0.6"/>
<text transform="translate(8.7 470.3) scale(1 1.17) rotate(-90)" text-anchor="middle" font-size="5.9" fill="#2b2f32" stroke="#2b2f32" stroke-width="0.12">4</text>
<line x1="10.4" x2="13.3" y1="500.7" y2="500.7" stroke="#5c6164" stroke-width="0.6"/>
<text transform="translate(8.7 500.7) scale(1 1.17) rotate(-90)" text-anchor="middle" font-size="5.9" fill="#2b2f32" stroke="#2b2f32" stroke-width="0.12">2</text>
<line x1="10.4" x2="13.3" y1="531.1" y2="531.1" stroke="#5c6164" stroke-width="0.6"/>
<text transform="translate(8.7 531.1) scale(1 1.17) rotate(-90)" text-anchor="middle" font-size="5.9" fill="#2b2f32" stroke="#2b2f32" stroke-width="0.12">0</text>
<line x1="16.8" x2="16.8" y1="535.2" y2="537.8" stroke="#5c6164" stroke-width="0.6"/>
<text transform="translate(16.8 545.1) scale(1 1.17)" text-anchor="middle" font-size="5.6" fill="#2b2f32" stroke="#2b2f32" stroke-width="0.12">0</text>
<line x1="51.5" x2="51.5" y1="535.2" y2="537.8" stroke="#5c6164" stroke-width="0.6"/>
<text transform="translate(51.5 545.1) scale(1 1.17)" text-anchor="middle" font-size="5.6" fill="#2b2f32" stroke="#2b2f32" stroke-width="0.12">.5</text>
<line x1="86.2" x2="86.2" y1="535.2" y2="537.8" stroke="#5c6164" stroke-width="0.6"/>
<text transform="translate(86.2 545.1) scale(1 1.17)" text-anchor="middle" font-size="5.6" fill="#2b2f32" stroke="#2b2f32" stroke-width="0.12">1</text>
<line x1="120.9" x2="120.9" y1="535.2" y2="537.8" stroke="#5c6164" stroke-width="0.6"/>
<text transform="translate(120.9 545.1) scale(1 1.17)" text-anchor="middle" font-size="5.6" fill="#2b2f32" stroke="#2b2f32" stroke-width="0.12">1.5</text>
<line x1="155.6" x2="155.6" y1="535.2" y2="537.8" stroke="#5c6164" stroke-width="0.6"/>
<text transform="translate(155.6 545.1) scale(1 1.17)" text-anchor="middle" font-size="5.6" fill="#2b2f32" stroke="#2b2f32" stroke-width="0.12">2</text>
<line x1="190.3" x2="190.3" y1="535.2" y2="537.8" stroke="#5c6164" stroke-width="0.6"/>
<text transform="translate(190.3 545.1) scale(1 1.17)" text-anchor="middle" font-size="5.6" fill="#2b2f32" stroke="#2b2f32" stroke-width="0.12">2.5</text>
<text x="102.0" y="377.0" text-anchor="middle" font-family="'Liberation Serif',serif" font-weight="bold" font-size="10.3" fill="#111">Transport tax</text>
<text transform="translate(103.5 391.6) scale(1 1.17)" text-anchor="middle" font-size="7.27" fill="#1e2d53" stroke="#1e2d53" stroke-width="0.12">Lowess smoother</text>
<path transform="scale(1 1.26)" d="M34.2 318.1h0M35.4 317.6h0M36.4 317.3h0M37.3 317.3h0M38.2 316.9h0M34.8 317.7h0M35.3 317.2h0M36.1 316.8h0M37.0 317.2h0M38.0 317.8h0M49.4 336.5h0M50.2 335.9h0M51.3 335.4h0M51.9 335.3h0M52.8 335.5h0M53.2 335.9h0M59.2 336.7h0M60.0 336.2h0M60.9 336.1h0M61.5 335.7h0M62.3 335.9h0M63.0 335.4h0M38.0 341.6h0M39.0 341.2h0M39.8 340.8h0M40.4 340.4h0M41.6 340.5h0M42.6 340.3h0M43.2 339.7h0M16.6 343.8h0M19.8 347.5h0M22.3 348.9h0M34.4 347.0h0M31.8 348.6h0M30.7 350.7h0M32.9 349.3h0M33.9 349.8h0M34.9 348.0h0M35.2 345.9h0M31.0 350.7h0M32.5 346.1h0M36.0 347.5h0M30.1 352.1h0M33.2 350.1h0M33.8 349.6h0M33.9 351.1h0M33.6 347.0h0M30.9 345.9h0M34.5 346.0h0M34.9 349.1h0M34.7 345.6h0M34.3 344.8h0M31.7 346.8h0M34.8 352.0h0M30.0 349.9h0M29.9 351.2h0M31.7 351.3h0M34.6 344.7h0M34.2 351.2h0M33.9 349.5h0M30.0 346.0h0M34.4 347.9h0M34.8 348.4h0M31.1 347.6h0M31.2 351.8h0M31.6 345.5h0M34.9 344.5h0M35.9 345.5h0M35.8 351.6h0M34.7 349.8h0M34.2 350.4h0M29.8 349.0h0M30.6 349.8h0M36.0 347.2h0M34.2 348.0h0M33.7 347.4h0M32.2 344.9h0M31.0 350.2h0M34.5 347.9h0M29.2 347.0h0M35.0 350.0h0M30.8 344.7h0M29.7 348.9h0M34.8 350.0h0M33.2 346.3h0M30.6 347.1h0M33.5 350.8h0M35.4 346.6h0M30.1 345.0h0M30.2 350.0h0M31.2 347.5h0M31.7 346.5h0M31.2 351.6h0M30.0 347.1h0M32.4 345.5h0M32.5 348.3h0M34.5 351.1h0M35.2 348.1h0M33.0 348.1h0M33.4 345.4h0M30.8 351.9h0M33.4 347.9h0M31.5 347.3h0M35.8 347.0h0M32.7 345.7h0M32.6 350.5h0M31.6 345.2h0M34.9 348.4h0M29.7 350.3h0M33.3 344.9h0M35.6 347.6h0M33.9 350.5h0M31.4 347.3h0M31.0 348.1h0M30.3 350.0h0M30.9 348.7h0M30.7 346.0h0M29.9 347.8h0M32.2 350.1h0M33.5 347.8h0M31.5 347.7h0M30.2 348.4h0M27.2 349.0h0M25.4 350.1h0M26.1 350.2h0M26.1 348.1h0M26.2 348.8h0M27.3 350.5h0M25.4 351.2h0M26.3 350.8h0M25.7 348.9h0M25.4 348.2h0M25.6 349.2h0M26.1 349.5h0M26.2 349.5h0M26.6 350.3h0M25.8 349.5h0M25.9 347.1h0M36.7 348.4h0M36.4 349.2h0M27.6 348.3h0M31.9 352.8h0M33.6 353.2h0M34.8 346.4h0M36.2 346.1h0M34.6 353.5h0M32.9 351.4h0M38.4 346.5h0M28.3 347.5h0M34.6 349.0h0M27.9 345.1h0M35.3 352.8h0M33.7 349.1h0M30.1 346.3h0M28.1 350.5h0M27.3 349.3h0M35.8 346.4h0M25.7 347.1h0M27.0 349.9h0M37.4 346.7h0M37.8 353.7h0M30.6 353.0h0M38.2 345.1h0M26.2 352.4h0M38.8 348.5h0M27.6 354.6h0M29.2 352.0h0M37.6 349.7h0M37.5 346.1h0M33.0 351.6h0M35.8 351.2h0M30.5 352.5h0M38.6 350.2h0M37.3 347.7h0M53.9 345.6h0M46.6 346.3h0M46.1 346.8h0M48.5 349.2h0M49.6 345.7h0M48.2 348.6h0M47.5 346.2h0M49.6 346.9h0M47.2 346.6h0M51.4 346.4h0M54.4 346.2h0M49.0 348.1h0M55.4 345.2h0M54.0 348.6h0M52.5 350.0h0M50.0 349.6h0M53.7 349.2h0M48.3 345.4h0M49.8 346.5h0M56.1 346.7h0M54.2 345.5h0M49.4 348.1h0M53.9 346.8h0M45.2 349.9h0M55.7 349.3h0M47.9 345.7h0M52.9 344.1h0M53.1 345.3h0M55.8 345.9h0M52.8 346.3h0M46.2 349.1h0M45.9 347.8h0M46.9 349.2h0M52.3 348.1h0M56.5 347.2h0M47.4 345.2h0M47.6 347.5h0M56.4 346.2h0M46.5 346.8h0M51.2 348.8h0M61.0 350.9h0M66.4 349.7h0M58.9 349.9h0M64.2 349.8h0M60.9 349.0h0M59.5 349.4h0M61.2 349.4h0M66.5 349.6h0M61.9 350.1h0M66.4 349.5h0M59.7 349.7h0M56.7 349.0h0M58.1 349.4h0M57.5 349.4h0M63.2 350.7h0M56.6 350.6h0M64.4 348.7h0M65.2 350.1h0M58.1 349.7h0M65.3 349.3h0M40.2 351.4h0M41.1 353.1h0M41.4 352.3h0M44.9 350.8h0M47.9 352.5h0M48.0 353.4h0M42.7 352.0h0M47.4 353.2h0M42.1 352.2h0M42.9 351.3h0M48.4 352.9h0M39.4 353.9h0M73.8 349.4h0M71.5 354.0h0M74.0 355.6h0M72.5 357.0h0M42.4 351.8h0M50.2 352.7h0M43.3 352.7h0M45.9 352.8h0M43.1 353.2h0M44.3 353.9h0M49.6 356.1h0M45.3 356.9h0M44.8 353.2h0M50.1 353.3h0M50.3 355.2h0M44.5 353.7h0M32.5 359.1h0M35.0 357.9h0M37.5 358.7h0M40.0 357.5h0M42.5 358.3h0M34.0 360.3h0M99.1 356.2h0M83.7 356.3h0M89.0 356.5h0M102.9 356.4h0M91.5 356.4h0M87.0 356.8h0M93.4 356.1h0M91.0 356.4h0M90.6 355.1h0M83.4 355.9h0M87.6 356.5h0M94.6 356.6h0M83.2 355.6h0M103.3 355.4h0M97.9 355.9h0M95.9 355.0h0M87.3 356.1h0M102.8 355.8h0M99.2 356.6h0M102.9 355.4h0M101.6 355.5h0M85.1 356.2h0M88.3 355.5h0M94.8 357.3h0M85.2 356.2h0M94.2 356.6h0M100.6 355.9h0M83.8 356.4h0M95.6 354.6h0M103.4 356.3h0M92.1 355.5h0M89.3 356.2h0M94.7 356.2h0M89.5 355.8h0M87.9 352.9h0M91.8 352.9h0M88.2 352.6h0M88.1 353.3h0M90.2 353.4h0M89.4 353.2h0M90.9 352.9h0M86.4 353.1h0M110.6 356.0h0M108.0 356.3h0M90.3 348.7h0M94.2 350.3h0M96.2 350.8h0M39.4 363.5h0M35.5 363.6h0M42.0 363.8h0M35.6 363.5h0M35.4 364.0h0M35.7 363.1h0M39.7 364.1h0M40.0 363.6h0M38.0 363.6h0M38.8 363.5h0M36.8 362.8h0M39.1 363.6h0M38.1 363.7h0M39.3 363.5h0M78.2 364.5h0M73.7 364.2h0M71.2 364.7h0M67.9 364.9h0M69.0 365.7h0M76.9 365.5h0M72.4 361.6h0M67.3 367.0h0M72.7 366.0h0M64.6 364.1h0M71.8 362.2h0M62.7 363.0h0M78.2 363.9h0M65.8 367.6h0M74.1 367.6h0M77.8 365.5h0M77.9 362.1h0M71.7 364.1h0M76.2 366.6h0M77.1 363.2h0M66.3 363.9h0M76.4 364.8h0M64.5 365.8h0M65.2 362.2h0M64.6 363.9h0M77.8 366.5h0M64.2 364.2h0M65.3 368.1h0M68.5 362.6h0M67.0 366.7h0M62.8 362.6h0M77.5 362.6h0M66.2 361.0h0M75.7 365.4h0M64.2 362.8h0M63.5 362.1h0M74.1 363.1h0M62.9 367.0h0M77.0 365.0h0M66.9 364.4h0M70.4 365.0h0M76.3 363.3h0M70.4 366.4h0M75.0 364.8h0M68.3 364.2h0M74.8 363.9h0M78.1 366.9h0M64.6 363.2h0M16.6 372.1h0M19.4 373.1h0M18.1 372.9h0M19.8 372.1h0M18.8 373.3h0M33.9 370.0h0M33.1 372.9h0M23.6 370.4h0M27.1 373.9h0M27.4 370.5h0M30.1 371.0h0M23.2 373.1h0M22.7 371.5h0M31.0 369.9h0M29.7 371.6h0M33.3 371.9h0M31.4 373.2h0M22.9 369.5h0M23.9 373.2h0M23.6 372.3h0M26.9 370.0h0M32.2 370.3h0M33.1 370.0h0M30.3 372.8h0M30.3 372.8h0M30.1 370.1h0M24.4 371.7h0M26.3 370.4h0M26.8 373.8h0M30.8 377.6h0M30.0 378.3h0M31.5 376.8h0M31.5 377.9h0M29.9 377.6h0M29.7 377.6h0M31.2 378.4h0M31.2 378.1h0M27.7 378.2h0M40.3 371.1h0M45.8 374.6h0M46.5 372.6h0M37.7 375.0h0M52.3 373.3h0M46.0 373.1h0M38.6 374.9h0M50.9 373.8h0M36.9 374.3h0M44.3 376.2h0M44.7 373.5h0M42.1 372.4h0M46.0 374.8h0M44.4 374.3h0M46.3 372.6h0M48.2 372.0h0M47.0 374.2h0M49.1 372.7h0M50.0 374.4h0M36.4 375.2h0M49.1 376.0h0M38.8 374.8h0M48.8 375.1h0M36.9 373.4h0M43.8 371.7h0M49.7 373.7h0M38.1 375.1h0M38.1 375.4h0M38.6 371.7h0M47.0 374.6h0M52.7 372.5h0M36.9 374.7h0M51.2 371.8h0M42.4 375.3h0M37.3 374.2h0M38.5 374.0h0M42.2 372.6h0M37.3 373.5h0M42.3 373.8h0M45.7 372.2h0M41.7 371.6h0M52.0 372.3h0M36.3 373.9h0M51.6 372.2h0M47.1 372.3h0M41.7 373.6h0M40.2 371.8h0M35.3 373.3h0M45.1 374.4h0M41.3 373.6h0M48.7 372.0h0M39.3 372.7h0M51.2 372.2h0M42.1 374.9h0M45.7 374.8h0M74.6 376.9h0M56.3 376.3h0M74.8 374.6h0M53.8 375.5h0M68.2 373.1h0M73.2 371.1h0M84.4 377.1h0M70.8 377.0h0M59.2 377.3h0M94.3 378.2h0M71.3 378.0h0M90.0 376.9h0M85.2 377.7h0M74.8 371.9h0M63.1 369.7h0M84.3 371.4h0M67.5 372.9h0M82.4 375.6h0M61.6 374.4h0M80.9 375.8h0M93.8 377.5h0M64.3 375.1h0M52.3 371.6h0M72.3 374.5h0M81.6 377.2h0M85.7 372.9h0M55.6 372.5h0M93.1 371.3h0M69.5 376.9h0M60.2 375.4h0M57.7 370.2h0M63.3 376.0h0M64.9 374.0h0M87.3 370.3h0M63.0 372.2h0M55.3 377.3h0M96.5 375.8h0M91.6 370.6h0M84.3 377.0h0M74.3 374.6h0M53.7 376.2h0M95.5 374.8h0M60.1 376.9h0M72.8 372.3h0M60.6 371.2h0M97.7 373.0h0M97.2 375.9h0M71.3 373.1h0M84.0 371.3h0M83.7 371.3h0M74.0 373.6h0M67.1 369.8h0M82.0 378.3h0M64.3 372.4h0M60.8 377.3h0M90.4 375.6h0M66.8 371.2h0M64.9 378.7h0M96.8 373.3h0M56.0 371.2h0M59.5 372.6h0M93.4 377.7h0M53.9 369.7h0M95.1 377.9h0M80.1 370.0h0M86.2 370.0h0M80.0 377.7h0M80.4 376.5h0M80.5 375.3h0M55.8 374.0h0M77.9 370.9h0M65.0 372.7h0M91.1 371.0h0M88.6 373.4h0M78.8 376.6h0M82.2 374.7h0M84.6 373.5h0M90.9 377.4h0M78.3 376.1h0M70.1 375.6h0M71.8 373.1h0M72.6 371.4h0M82.3 370.3h0M74.5 372.3h0M77.4 370.7h0M64.2 372.2h0M79.1 372.0h0M70.2 373.2h0M67.1 371.8h0M68.8 374.6h0M69.5 371.1h0M72.6 372.6h0M73.8 372.9h0M95.0 371.4h0M90.4 377.0h0M70.7 372.1h0M64.9 378.8h0M68.4 374.5h0M63.0 374.7h0M89.8 375.9h0M75.1 371.1h0M64.5 370.0h0M61.5 378.1h0M96.5 378.6h0M88.7 375.2h0M85.6 376.2h0M69.3 377.5h0M67.7 375.8h0M86.1 372.9h0M84.6 371.1h0M62.2 376.6h0M97.6 377.4h0M81.7 370.8h0M70.4 372.9h0M93.9 378.2h0M97.5 378.5h0M87.2 376.9h0M69.0 371.3h0M90.2 374.2h0M86.5 375.8h0M65.5 374.6h0M94.8 373.3h0M81.7 375.3h0M97.0 378.0h0M90.6 370.7h0M89.2 376.8h0M89.3 370.2h0M81.8 376.6h0M59.2 371.5h0M62.5 371.1h0M64.7 370.6h0M80.0 372.2h0M85.1 372.5h0M69.9 371.0h0M75.2 375.3h0M97.6 373.2h0M93.0 372.2h0M63.6 376.0h0M87.3 377.0h0M94.4 375.6h0M56.6 376.8h0M91.9 378.1h0M94.6 372.5h0M85.7 371.1h0M57.3 371.3h0M97.5 374.7h0M62.9 377.5h0M68.3 377.4h0M61.8 370.9h0M86.7 373.1h0M88.2 378.3h0M66.4 373.0h0M93.3 373.9h0M59.6 378.0h0M88.3 376.9h0M71.1 372.7h0M96.8 374.1h0M71.7 371.8h0M93.6 376.3h0M98.4 376.4h0M65.0 376.1h0M88.5 377.1h0M83.9 377.1h0M56.3 376.1h0M72.4 371.0h0M95.0 375.7h0M64.2 374.8h0M65.9 370.9h0M85.8 374.5h0M65.3 372.2h0M86.8 373.7h0M55.7 375.3h0M66.2 373.3h0M61.4 370.0h0M94.5 372.3h0M84.2 373.8h0M78.4 374.2h0M69.1 376.4h0M73.7 372.7h0M64.0 373.9h0M90.9 370.8h0M80.8 375.7h0M63.8 372.9h0M98.6 373.9h0M70.4 377.8h0M60.8 370.5h0M87.0 373.7h0M96.4 375.9h0M86.7 378.0h0M97.4 375.4h0M58.8 372.5h0M68.8 376.8h0M53.6 374.6h0M61.6 374.3h0M65.6 372.5h0M63.9 376.8h0M69.1 371.1h0M59.7 371.7h0M61.1 374.0h0M84.7 370.6h0M90.4 372.5h0M68.2 375.8h0M57.7 375.5h0M74.9 375.0h0M101.1 370.5h0M72.5 374.7h0M58.2 375.5h0M71.5 376.0h0M86.1 377.5h0M55.3 375.3h0M82.9 375.1h0M86.2 372.6h0M72.1 375.8h0M91.1 373.4h0M57.8 370.5h0M72.4 378.5h0M53.8 373.0h0M69.0 373.2h0M84.8 369.6h0M70.3 372.7h0M72.0 370.6h0M96.2 370.0h0M68.6 377.9h0M79.2 371.5h0M70.9 377.8h0M88.3 372.7h0M71.3 377.4h0M57.3 378.4h0M74.5 373.1h0M71.1 377.7h0M69.5 376.7h0M81.0 372.1h0M68.2 373.1h0M87.3 374.8h0M83.6 375.8h0M72.3 376.8h0M70.2 373.7h0M87.8 374.0h0M91.4 377.2h0M61.8 377.4h0M59.9 375.7h0M79.8 377.6h0M90.1 375.8h0M70.3 373.5h0M81.2 377.2h0M85.7 376.5h0M87.8 376.1h0M89.0 372.3h0M68.9 372.5h0M78.6 374.5h0M70.7 373.4h0M84.5 373.6h0M71.3 373.8h0M71.4 377.5h0M89.3 372.7h0M90.7 376.4h0M73.6 374.4h0M87.0 372.7h0M66.1 377.1h0M70.7 373.2h0M60.8 375.0h0M76.0 372.2h0M64.0 375.0h0M67.3 374.8h0M69.4 377.0h0M94.4 375.8h0M66.6 373.9h0M87.1 374.6h0M78.6 377.7h0M76.0 372.7h0M91.6 372.6h0M82.8 373.3h0M74.7 374.8h0M80.8 373.1h0M65.8 376.3h0M76.4 372.8h0M77.2 371.4h0M65.6 377.5h0M63.5 376.8h0M59.7 374.8h0M66.5 375.2h0M78.0 373.6h0M72.4 376.3h0M75.2 377.2h0M70.0 377.1h0M89.0 373.7h0M59.2 376.1h0M77.6 373.7h0M68.2 372.4h0M77.8 375.3h0M89.2 376.0h0M65.9 373.4h0M77.3 373.2h0M75.8 372.7h0M89.5 373.8h0M92.9 376.0h0M68.2 373.0h0M80.3 372.8h0M67.8 374.6h0M74.6 375.5h0M80.0 372.9h0M70.2 377.0h0M74.1 376.8h0M91.0 374.6h0M92.6 372.2h0M73.4 376.3h0M91.9 374.5h0M70.8 375.9h0M60.8 372.2h0M70.5 372.7h0M112.7 377.2h0M116.5 376.2h0M119.1 376.5h0M119.2 376.4h0M110.8 377.4h0M113.4 375.3h0M120.8 376.6h0M118.9 377.1h0M124.1 376.1h0M116.0 376.4h0M122.0 375.4h0M121.1 376.9h0M115.2 377.2h0M124.1 375.2h0M123.5 376.7h0M120.8 377.1h0M119.8 377.3h0M122.0 377.3h0M120.2 374.5h0M123.3 376.0h0M118.3 375.7h0M115.3 377.4h0M111.4 377.0h0M124.0 377.0h0M117.0 377.1h0M117.3 378.2h0M110.1 376.0h0M116.4 376.1h0M114.1 375.5h0M121.1 375.5h0M120.6 374.6h0M116.5 376.8h0M123.3 376.4h0M114.0 377.4h0M115.7 374.9h0M122.3 377.3h0M112.8 375.3h0M115.7 376.3h0M123.3 376.3h0M111.5 376.3h0M103.0 378.6h0M102.8 378.1h0M103.3 376.2h0M104.4 377.7h0M104.6 377.2h0M102.1 377.5h0M103.1 376.6h0M105.2 378.5h0M105.4 376.9h0M105.5 378.4h0M102.4 377.7h0M102.7 376.2h0M107.1 378.1h0M104.6 377.4h0M104.7 371.1h0M134.8 372.7h0M138.7 372.1h0M145.3 373.0h0M148.0 373.0h0M157.0 372.1h0M159.7 370.0h0M162.3 371.7h0M171.5 372.7h0M175.4 372.1h0M26.4 388.8h0M23.1 389.1h0M22.7 388.3h0M30.7 389.0h0M26.6 388.4h0M24.7 388.1h0M21.3 389.8h0M30.3 388.7h0M22.6 389.0h0M22.3 389.5h0M28.9 389.2h0M24.0 390.0h0M27.3 388.9h0M29.2 387.8h0M33.1 389.0h0M32.3 388.1h0M28.4 388.7h0M24.4 388.6h0M39.3 388.3h0M47.2 388.3h0M39.9 390.2h0M40.5 388.3h0M48.7 388.9h0M47.0 389.0h0M43.7 388.7h0M47.3 388.8h0M41.7 389.5h0M47.2 388.3h0M44.2 388.5h0M47.4 388.5h0M49.0 388.9h0M40.2 388.2h0M39.2 388.7h0M48.5 388.2h0M62.9 387.8h0M67.2 390.2h0M70.8 390.4h0M66.1 389.8h0M66.9 389.3h0M63.7 388.6h0M67.2 388.7h0M71.4 389.8h0M67.8 389.4h0M21.7 399.3h0M19.9 400.7h0M21.6 400.8h0M20.2 400.0h0M21.0 401.5h0M20.5 400.8h0M28.9 399.0h0M25.2 396.7h0M23.9 392.8h0M29.8 398.7h0M27.3 398.4h0M24.4 393.2h0M25.4 394.3h0M24.9 395.1h0M29.8 396.8h0M24.3 392.7h0M25.1 393.7h0M23.6 391.7h0M31.0 393.4h0M30.0 391.6h0M25.1 396.7h0M24.8 395.1h0M24.3 398.7h0M24.4 392.1h0M27.9 396.6h0M28.7 395.8h0M27.9 398.1h0M29.1 393.3h0M25.5 394.3h0M24.1 398.4h0M16.1 394.9h0M18.5 393.7h0M33.9 397.5h0M38.2 396.0h0M36.9 395.9h0M39.2 396.8h0M37.4 396.9h0M37.2 394.6h0M36.4 395.3h0M41.5 396.7h0M41.8 396.7h0M39.6 395.4h0M37.7 395.7h0M34.1 395.3h0M49.1 396.8h0M66.6 398.3h0M48.7 397.8h0M49.2 397.1h0M56.3 397.5h0M54.9 396.8h0M61.0 396.9h0M59.8 397.9h0M56.2 398.2h0M51.4 397.5h0M57.6 397.7h0M67.9 397.6h0M59.7 397.9h0M66.2 397.6h0M55.1 397.8h0M60.0 396.8h0M60.0 397.5h0M65.2 397.5h0M68.0 397.1h0M58.3 398.6h0M68.4 398.2h0M55.6 398.1h0M52.4 397.0h0M56.8 396.9h0M57.3 398.5h0M51.7 396.6h0M52.5 396.9h0M46.8 397.8h0M58.5 396.7h0M62.8 397.6h0M40.6 400.8h0M43.2 403.2h0M47.5 401.2h0M49.3 402.8h0M52.8 399.6h0M55.5 400.6h0M58.0 399.7h0M57.5 409.3h0M57.9 409.7h0M60.8 410.5h0M58.1 408.0h0M58.3 407.9h0M61.6 408.3h0M60.9 408.6h0M60.7 408.1h0M57.4 409.2h0M58.1 409.5h0M65.9 405.6h0M70.3 406.3h0M78.5 409.0h0M107.2 411.0h0M109.8 408.1h0M112.4 408.1h0M120.7 409.3h0M121.8 409.8h0M126.6 409.5h0M137.1 409.0h0M140.4 408.6h0M148.3 408.4h0M158.5 409.0h0M166.6 409.7h0M172.7 409.8h0" fill="none" stroke="#163e72" stroke-width="3.0" stroke-linecap="round"/>
<path d="M16.1 497.6L18.0 491.5L21.4 485.0L24.8 474.4L26.6 470.0L29.2 464.8L31.0 462.5L33.6 460.8L37.0 459.9L40.6 459.5L50.0 459.2L57.2 459.2L60.0 459.8L62.4 460.8L66.0 462.5L69.4 463.9L79.9 466.5L90.0 468.3L104.6 470.2L115.0 472.5L125.0 475.2L150.0 482.0L175.4 488.5" fill="none" stroke="#c2545f" stroke-width="0.65" stroke-linejoin="round"/>
</g>
</svg>
</body></html>
